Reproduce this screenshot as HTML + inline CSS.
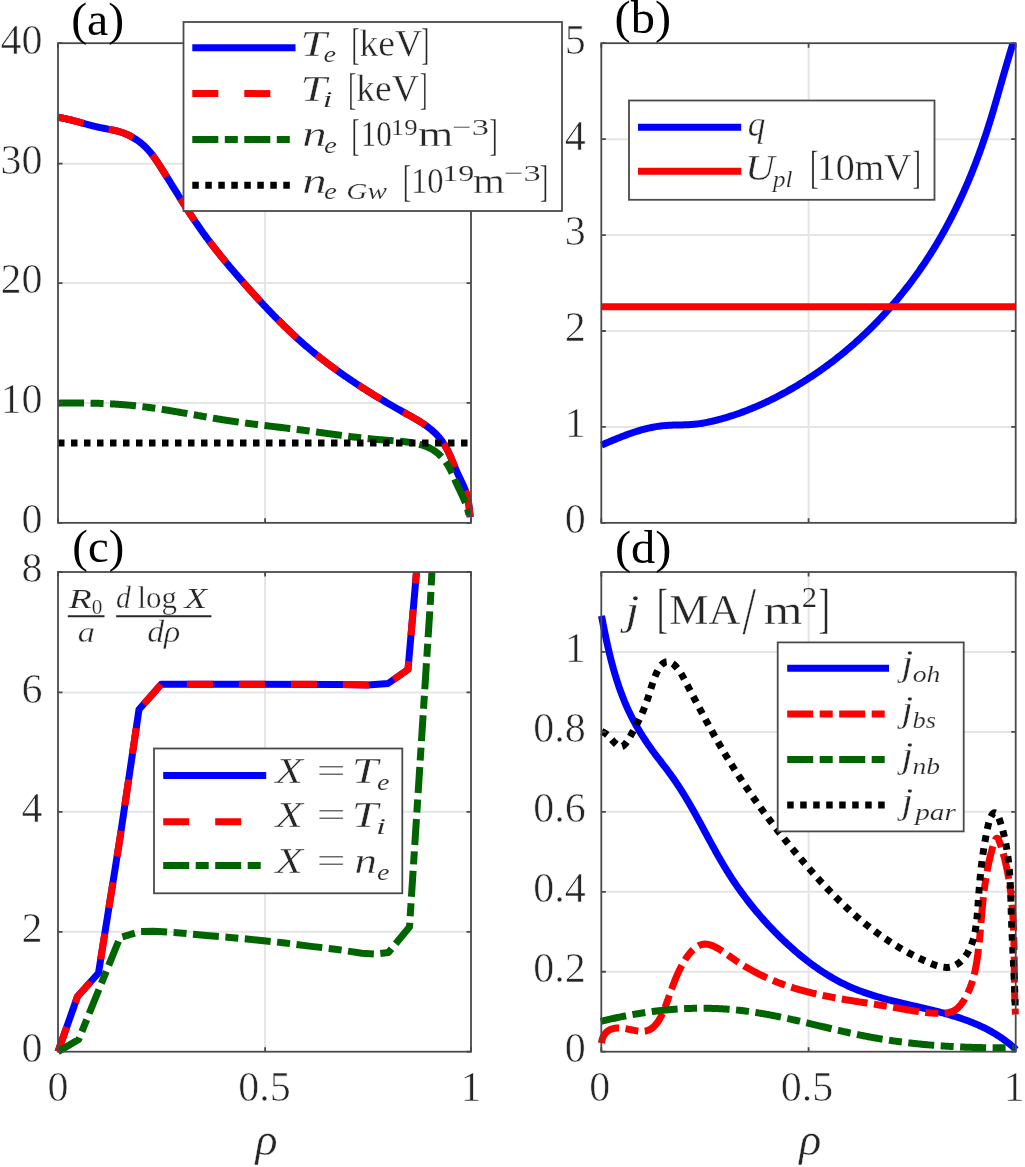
<!DOCTYPE html>
<html><head><meta charset="utf-8"><title>Figure</title>
<style>html,body{margin:0;padding:0;background:#fff;overflow:hidden}svg{display:block}</style>
</head><body>
<svg width="1025" height="1167" viewBox="0 0 1025 1167" font-family="'Liberation Serif', 'Times New Roman', serif">
<rect width="1025" height="1167" fill="#ffffff"/>
<line x1="58.0" y1="402.94" x2="471.0" y2="402.94" stroke="#e5e5e5" stroke-width="2"/>
<line x1="58.0" y1="283.03" x2="471.0" y2="283.03" stroke="#e5e5e5" stroke-width="2"/>
<line x1="58.0" y1="163.71" x2="471.0" y2="163.71" stroke="#e5e5e5" stroke-width="2"/>
<line x1="265.10" y1="43.2" x2="265.10" y2="522.85" stroke="#e5e5e5" stroke-width="2"/>
<line x1="601.3" y1="426.92" x2="1015.7" y2="426.92" stroke="#e5e5e5" stroke-width="2"/>
<line x1="601.3" y1="330.99" x2="1015.7" y2="330.99" stroke="#e5e5e5" stroke-width="2"/>
<line x1="601.3" y1="235.06" x2="1015.7" y2="235.06" stroke="#e5e5e5" stroke-width="2"/>
<line x1="601.3" y1="139.13" x2="1015.7" y2="139.13" stroke="#e5e5e5" stroke-width="2"/>
<line x1="808.60" y1="43.2" x2="808.60" y2="522.85" stroke="#e5e5e5" stroke-width="2"/>
<line x1="58.0" y1="931.78" x2="471.0" y2="931.78" stroke="#e5e5e5" stroke-width="2"/>
<line x1="58.0" y1="811.85" x2="471.0" y2="811.85" stroke="#e5e5e5" stroke-width="2"/>
<line x1="58.0" y1="692.42" x2="471.0" y2="692.42" stroke="#e5e5e5" stroke-width="2"/>
<line x1="265.10" y1="572.0" x2="265.10" y2="1051.7" stroke="#e5e5e5" stroke-width="2"/>
<line x1="601.3" y1="971.75" x2="1015.7" y2="971.75" stroke="#e5e5e5" stroke-width="2"/>
<line x1="601.3" y1="891.80" x2="1015.7" y2="891.80" stroke="#e5e5e5" stroke-width="2"/>
<line x1="601.3" y1="811.85" x2="1015.7" y2="811.85" stroke="#e5e5e5" stroke-width="2"/>
<line x1="601.3" y1="731.90" x2="1015.7" y2="731.90" stroke="#e5e5e5" stroke-width="2"/>
<line x1="601.3" y1="651.95" x2="1015.7" y2="651.95" stroke="#e5e5e5" stroke-width="2"/>
<line x1="808.60" y1="572.0" x2="808.60" y2="1051.7" stroke="#e5e5e5" stroke-width="2"/>
<defs>
<clipPath id="clipa"><rect x="54.0" y="43.2" width="421.0" height="483.65000000000003"/></clipPath>
<clipPath id="clipb"><rect x="597.3" y="43.2" width="422.4000000000001" height="483.65000000000003"/></clipPath>
<clipPath id="clipc"><rect x="54.0" y="572.0" width="421.0" height="483.70000000000005"/></clipPath>
<clipPath id="clipd"><rect x="597.3" y="572.0" width="422.4000000000001" height="483.70000000000005"/></clipPath>
</defs>
<g clip-path="url(#clipa)">
<path d="M58.04,117.32 L59.49,117.55 L60.94,117.79 L62.39,118.06 L63.84,118.35 L65.29,118.65 L66.75,118.97 L68.21,119.31 L69.66,119.66 L71.12,120.02 L72.59,120.40 L74.05,120.78 L75.51,121.17 L76.98,121.56 L78.44,121.97 L79.91,122.37 L81.37,122.78 L82.84,123.19 L84.31,123.59 L85.77,124.00 L87.24,124.40 L88.71,124.79 L90.17,125.18 L91.64,125.56 L93.10,125.94 L94.57,126.30 L96.03,126.64 L97.49,126.98 L98.95,127.30 L100.41,127.61 L101.87,127.92 L103.33,128.22 L104.78,128.51 L106.24,128.79 L107.69,129.07 L109.14,129.35 L110.59,129.63 L112.03,129.92 L113.48,130.21 L114.92,130.52 L116.35,130.85 L117.79,131.20 L119.22,131.59 L120.65,132.02 L122.08,132.50 L123.50,133.01 L124.91,133.56 L126.31,134.15 L127.71,134.78 L129.09,135.44 L130.46,136.14 L131.81,136.87 L133.15,137.64 L134.47,138.44 L135.77,139.27 L137.05,140.12 L138.31,141.01 L139.55,141.93 L140.75,142.87 L141.93,143.84 L143.09,144.83 L144.21,145.84 L145.30,146.88 L146.35,147.94 L147.38,149.01 L148.38,150.11 L149.36,151.22 L150.31,152.36 L151.24,153.50 L152.14,154.66 L153.03,155.84 L153.90,157.02 L154.76,158.22 L155.60,159.43 L156.43,160.65 L157.25,161.87 L158.06,163.11 L158.87,164.34 L159.67,165.59 L160.47,166.83 L161.27,168.08 L162.07,169.33 L162.86,170.59 L163.66,171.85 L164.45,173.10 L165.25,174.37 L166.04,175.63 L166.83,176.89 L167.63,178.16 L168.42,179.43 L169.21,180.70 L170.00,181.97 L170.79,183.24 L171.59,184.51 L172.38,185.79 L173.17,187.06 L173.96,188.34 L174.76,189.61 L175.55,190.89 L176.35,192.17 L177.15,193.44 L177.94,194.72 L178.74,196.00 L179.54,197.28 L180.34,198.55 L181.14,199.83 L181.95,201.11 L182.75,202.38 L183.56,203.66 L184.37,204.93 L185.18,206.20 L185.99,207.47 L186.81,208.74 L187.62,210.01 L188.44,211.28 L189.27,212.55 L190.09,213.81 L190.92,215.07 L191.75,216.33 L192.58,217.59 L193.42,218.84 L194.25,220.10 L195.10,221.35 L195.94,222.60 L196.79,223.84 L197.64,225.08 L198.50,226.32 L199.36,227.56 L200.22,228.79 L201.09,230.02 L201.96,231.25 L202.83,232.47 L203.71,233.69 L204.59,234.90 L205.48,236.11 L206.37,237.32 L207.26,238.53 L208.16,239.73 L209.06,240.93 L209.97,242.13 L210.88,243.32 L211.79,244.51 L212.70,245.70 L213.62,246.88 L214.54,248.06 L215.47,249.24 L216.39,250.42 L217.32,251.59 L218.26,252.76 L219.19,253.93 L220.13,255.10 L221.08,256.26 L222.02,257.42 L222.97,258.58 L223.92,259.74 L224.87,260.89 L225.83,262.04 L226.78,263.20 L227.74,264.34 L228.71,265.49 L229.67,266.64 L230.64,267.78 L231.61,268.92 L232.58,270.06 L233.55,271.20 L234.52,272.34 L235.50,273.47 L236.48,274.61 L237.46,275.74 L238.44,276.87 L239.42,278.00 L240.41,279.13 L241.40,280.26 L242.38,281.39 L243.37,282.52 L244.37,283.64 L245.36,284.77 L246.35,285.89 L247.35,287.01 L248.34,288.13 L249.34,289.25 L250.34,290.37 L251.34,291.49 L252.35,292.60 L253.35,293.72 L254.36,294.83 L255.37,295.94 L256.38,297.05 L257.39,298.16 L258.40,299.26 L259.42,300.37 L260.44,301.47 L261.46,302.57 L262.48,303.67 L263.51,304.77 L264.53,305.86 L265.56,306.95 L266.59,308.05 L267.62,309.13 L268.66,310.22 L269.70,311.30 L270.74,312.39 L271.78,313.47 L272.82,314.54 L273.87,315.62 L274.92,316.69 L275.97,317.76 L277.02,318.83 L278.08,319.89 L279.14,320.95 L280.20,322.01 L281.26,323.07 L282.33,324.12 L283.40,325.17 L284.47,326.22 L285.55,327.27 L286.63,328.31 L287.71,329.35 L288.79,330.38 L289.88,331.41 L290.97,332.44 L292.06,333.47 L293.15,334.49 L294.25,335.51 L295.35,336.53 L296.46,337.54 L297.57,338.55 L298.68,339.55 L299.79,340.55 L300.91,341.55 L302.03,342.55 L303.15,343.54 L304.28,344.52 L305.41,345.51 L306.55,346.48 L307.68,347.46 L308.83,348.43 L309.97,349.40 L311.12,350.36 L312.27,351.32 L313.43,352.27 L314.58,353.22 L315.75,354.17 L316.91,355.11 L318.08,356.05 L319.25,356.98 L320.43,357.91 L321.60,358.84 L322.79,359.76 L323.97,360.68 L325.16,361.60 L326.35,362.51 L327.54,363.42 L328.74,364.32 L329.94,365.22 L331.14,366.12 L332.35,367.01 L333.56,367.90 L334.77,368.79 L335.98,369.67 L337.20,370.55 L338.42,371.43 L339.64,372.30 L340.87,373.17 L342.09,374.03 L343.32,374.90 L344.56,375.76 L345.79,376.61 L347.03,377.46 L348.27,378.31 L349.51,379.16 L350.76,380.00 L352.00,380.84 L353.25,381.68 L354.51,382.51 L355.76,383.34 L357.02,384.17 L358.27,384.99 L359.54,385.81 L360.80,386.63 L362.06,387.44 L363.33,388.26 L364.60,389.07 L365.87,389.87 L367.14,390.68 L368.42,391.48 L369.69,392.27 L370.97,393.07 L372.25,393.86 L373.53,394.65 L374.82,395.44 L376.10,396.22 L377.39,397.01 L378.68,397.78 L379.97,398.56 L381.26,399.34 L382.55,400.11 L383.85,400.88 L385.14,401.64 L386.44,402.41 L387.74,403.17 L389.04,403.93 L390.34,404.69 L391.64,405.44 L392.95,406.19 L394.25,406.94 L395.56,407.69 L396.86,408.44 L398.17,409.18 L399.48,409.92 L400.79,410.66 L402.10,411.40 L403.41,412.13 L404.73,412.87 L406.04,413.60 L407.36,414.33 L408.67,415.06 L409.98,415.79 L411.29,416.52 L412.60,417.26 L413.90,418.00 L415.20,418.75 L416.49,419.51 L417.77,420.27 L419.04,421.04 L420.31,421.83 L421.57,422.63 L422.81,423.44 L424.05,424.26 L425.27,425.10 L426.47,425.96 L427.67,426.83 L428.84,427.73 L430.01,428.64 L431.15,429.58 L432.28,430.54 L433.38,431.53 L434.47,432.54 L435.53,433.57 L436.58,434.64 L437.60,435.73 L438.60,436.86 L439.57,438.01 L440.51,439.20 L441.43,440.40 L442.33,441.64 L443.19,442.89 L444.03,444.16 L444.83,445.45 L445.61,446.75 L446.35,448.06 L447.07,449.38 L447.76,450.72 L448.42,452.06 L449.07,453.41 L449.70,454.76 L450.31,456.13 L450.91,457.50 L451.49,458.87 L452.07,460.25 L452.65,461.63 L453.22,463.02 L453.79,464.40 L454.36,465.79 L454.93,467.18 L455.51,468.57 L456.10,469.96 L456.70,471.34 L457.31,472.72 L457.94,474.10 L458.58,475.48 L459.23,476.85 L459.89,478.22 L460.55,479.60 L461.20,480.97 L461.85,482.34 L462.49,483.71 L463.12,485.08 L463.73,486.46 L464.32,487.84 L464.88,489.22 L465.42,490.61 L465.92,492.00 L466.39,493.40 L466.82,494.80 L467.21,496.21 L467.55,497.63 L467.87,499.06 L468.15,500.50 L468.40,501.94 L468.63,503.40 L468.84,504.87 L469.03,506.35 L469.21,507.84 L469.38,509.34 L469.54,510.86 L469.70,512.39 L469.87,513.94 L470.04,515.50 L470.22,517.08" stroke="#0000ff" stroke-width="7.0" fill="none" stroke-linejoin="round"/>
<path d="M58.04,117.32 L59.49,117.55 L60.94,117.79 L62.39,118.06 L63.84,118.35 L65.29,118.65 L66.75,118.97 L68.21,119.31 L69.66,119.66 L71.12,120.02 L72.59,120.40 L74.05,120.78 L75.51,121.17 L76.98,121.56 L78.44,121.97 L79.91,122.37 L81.37,122.78 L82.84,123.19 L84.31,123.59 L85.77,124.00 L87.24,124.40 L88.71,124.79 L90.17,125.18 L91.64,125.56 L93.10,125.94 L94.57,126.30 L96.03,126.64 L97.49,126.98 L98.95,127.30 L100.41,127.61 L101.87,127.92 L103.33,128.22 L104.78,128.51 L106.24,128.79 L107.69,129.07 L109.14,129.35 L110.59,129.63 L112.03,129.92 L113.48,130.21 L114.92,130.52 L116.35,130.85 L117.79,131.20 L119.22,131.59 L120.65,132.02 L122.08,132.50 L123.50,133.01 L124.91,133.56 L126.31,134.15 L127.71,134.78 L129.09,135.44 L130.46,136.14 L131.81,136.87 L133.15,137.64 L134.47,138.44 L135.77,139.27 L137.05,140.12 L138.31,141.01 L139.55,141.93 L140.75,142.87 L141.93,143.84 L143.09,144.83 L144.21,145.84 L145.30,146.88 L146.35,147.94 L147.38,149.01 L148.38,150.11 L149.36,151.22 L150.31,152.36 L151.24,153.50 L152.14,154.66 L153.03,155.84 L153.90,157.02 L154.76,158.22 L155.60,159.43 L156.43,160.65 L157.25,161.87 L158.06,163.11 L158.87,164.34 L159.67,165.59 L160.47,166.83 L161.27,168.08 L162.07,169.33 L162.86,170.59 L163.66,171.85 L164.45,173.10 L165.25,174.37 L166.04,175.63 L166.83,176.89 L167.63,178.16 L168.42,179.43 L169.21,180.70 L170.00,181.97 L170.79,183.24 L171.59,184.51 L172.38,185.79 L173.17,187.06 L173.96,188.34 L174.76,189.61 L175.55,190.89 L176.35,192.17 L177.15,193.44 L177.94,194.72 L178.74,196.00 L179.54,197.28 L180.34,198.55 L181.14,199.83 L181.95,201.11 L182.75,202.38 L183.56,203.66 L184.37,204.93 L185.18,206.20 L185.99,207.47 L186.81,208.74 L187.62,210.01 L188.44,211.28 L189.27,212.55 L190.09,213.81 L190.92,215.07 L191.75,216.33 L192.58,217.59 L193.42,218.84 L194.25,220.10 L195.10,221.35 L195.94,222.60 L196.79,223.84 L197.64,225.08 L198.50,226.32 L199.36,227.56 L200.22,228.79 L201.09,230.02 L201.96,231.25 L202.83,232.47 L203.71,233.69 L204.59,234.90 L205.48,236.11 L206.37,237.32 L207.26,238.53 L208.16,239.73 L209.06,240.93 L209.97,242.13 L210.88,243.32 L211.79,244.51 L212.70,245.70 L213.62,246.88 L214.54,248.06 L215.47,249.24 L216.39,250.42 L217.32,251.59 L218.26,252.76 L219.19,253.93 L220.13,255.10 L221.08,256.26 L222.02,257.42 L222.97,258.58 L223.92,259.74 L224.87,260.89 L225.83,262.04 L226.78,263.20 L227.74,264.34 L228.71,265.49 L229.67,266.64 L230.64,267.78 L231.61,268.92 L232.58,270.06 L233.55,271.20 L234.52,272.34 L235.50,273.47 L236.48,274.61 L237.46,275.74 L238.44,276.87 L239.42,278.00 L240.41,279.13 L241.40,280.26 L242.38,281.39 L243.37,282.52 L244.37,283.64 L245.36,284.77 L246.35,285.89 L247.35,287.01 L248.34,288.13 L249.34,289.25 L250.34,290.37 L251.34,291.49 L252.35,292.60 L253.35,293.72 L254.36,294.83 L255.37,295.94 L256.38,297.05 L257.39,298.16 L258.40,299.26 L259.42,300.37 L260.44,301.47 L261.46,302.57 L262.48,303.67 L263.51,304.77 L264.53,305.86 L265.56,306.95 L266.59,308.05 L267.62,309.13 L268.66,310.22 L269.70,311.30 L270.74,312.39 L271.78,313.47 L272.82,314.54 L273.87,315.62 L274.92,316.69 L275.97,317.76 L277.02,318.83 L278.08,319.89 L279.14,320.95 L280.20,322.01 L281.26,323.07 L282.33,324.12 L283.40,325.17 L284.47,326.22 L285.55,327.27 L286.63,328.31 L287.71,329.35 L288.79,330.38 L289.88,331.41 L290.97,332.44 L292.06,333.47 L293.15,334.49 L294.25,335.51 L295.35,336.53 L296.46,337.54 L297.57,338.55 L298.68,339.55 L299.79,340.55 L300.91,341.55 L302.03,342.55 L303.15,343.54 L304.28,344.52 L305.41,345.51 L306.55,346.48 L307.68,347.46 L308.83,348.43 L309.97,349.40 L311.12,350.36 L312.27,351.32 L313.43,352.27 L314.58,353.22 L315.75,354.17 L316.91,355.11 L318.08,356.05 L319.25,356.98 L320.43,357.91 L321.60,358.84 L322.79,359.76 L323.97,360.68 L325.16,361.60 L326.35,362.51 L327.54,363.42 L328.74,364.32 L329.94,365.22 L331.14,366.12 L332.35,367.01 L333.56,367.90 L334.77,368.79 L335.98,369.67 L337.20,370.55 L338.42,371.43 L339.64,372.30 L340.87,373.17 L342.09,374.03 L343.32,374.90 L344.56,375.76 L345.79,376.61 L347.03,377.46 L348.27,378.31 L349.51,379.16 L350.76,380.00 L352.00,380.84 L353.25,381.68 L354.51,382.51 L355.76,383.34 L357.02,384.17 L358.27,384.99 L359.54,385.81 L360.80,386.63 L362.06,387.44 L363.33,388.26 L364.60,389.07 L365.87,389.87 L367.14,390.68 L368.42,391.48 L369.69,392.27 L370.97,393.07 L372.25,393.86 L373.53,394.65 L374.82,395.44 L376.10,396.22 L377.39,397.01 L378.68,397.78 L379.97,398.56 L381.26,399.34 L382.55,400.11 L383.85,400.88 L385.14,401.64 L386.44,402.41 L387.74,403.17 L389.04,403.93 L390.34,404.69 L391.64,405.44 L392.95,406.19 L394.25,406.94 L395.56,407.69 L396.86,408.44 L398.17,409.18 L399.48,409.92 L400.79,410.66 L402.10,411.40 L403.41,412.13 L404.73,412.87 L406.04,413.60 L407.36,414.33 L408.67,415.06 L409.98,415.79 L411.29,416.52 L412.60,417.26 L413.90,418.00 L415.20,418.75 L416.49,419.51 L417.77,420.27 L419.04,421.04 L420.31,421.83 L421.57,422.63 L422.81,423.44 L424.05,424.26 L425.27,425.10 L426.47,425.96 L427.67,426.83 L428.84,427.73 L430.01,428.64 L431.15,429.58 L432.28,430.54 L433.38,431.53 L434.47,432.54 L435.53,433.57 L436.58,434.64 L437.60,435.73 L438.60,436.86 L439.57,438.01 L440.51,439.20 L441.43,440.40 L442.33,441.64 L443.19,442.89 L444.03,444.16 L444.83,445.45 L445.61,446.75 L446.35,448.06 L447.07,449.38 L447.76,450.72 L448.42,452.06 L449.07,453.41 L449.70,454.76 L450.31,456.13 L450.91,457.50 L451.49,458.87 L452.07,460.25 L452.65,461.63 L453.22,463.02 L453.79,464.40 L454.36,465.79 L454.93,467.18 L455.51,468.57 L456.10,469.96 L456.70,471.34 L457.31,472.72 L457.94,474.10 L458.58,475.48 L459.23,476.85 L459.89,478.22 L460.55,479.60 L461.20,480.97 L461.85,482.34 L462.49,483.71 L463.12,485.08 L463.73,486.46 L464.32,487.84 L464.88,489.22 L465.42,490.61 L465.92,492.00 L466.39,493.40 L466.82,494.80 L467.21,496.21 L467.55,497.63 L467.87,499.06 L468.15,500.50 L468.40,501.94 L468.63,503.40 L468.84,504.87 L469.03,506.35 L469.21,507.84 L469.38,509.34 L469.54,510.86 L469.70,512.39 L469.87,513.94 L470.04,515.50 L470.22,517.08" stroke="#ff0000" stroke-width="7.0" fill="none" stroke-linejoin="round" stroke-dasharray="26,26"/>
<path d="M58.06,403.16 L59.20,403.14 L60.34,403.12 L61.48,403.10 L62.62,403.09 L63.76,403.07 L64.90,403.06 L66.04,403.04 L67.18,403.03 L68.32,403.02 L69.46,403.01 L70.60,403.01 L71.74,403.00 L72.88,402.99 L74.02,402.99 L75.15,402.99 L76.29,402.99 L77.43,402.99 L78.57,402.99 L79.71,403.00 L80.85,403.00 L81.99,403.01 L83.12,403.02 L84.26,403.03 L85.40,403.05 L86.54,403.06 L87.68,403.08 L88.81,403.10 L89.95,403.12 L91.09,403.14 L92.23,403.17 L93.36,403.19 L94.50,403.22 L95.64,403.25 L96.77,403.28 L97.91,403.32 L99.05,403.35 L100.18,403.39 L101.32,403.43 L102.46,403.48 L103.59,403.52 L104.73,403.57 L105.86,403.62 L107.00,403.67 L108.13,403.72 L109.27,403.78 L110.41,403.84 L111.54,403.90 L112.68,403.97 L113.81,404.03 L114.95,404.10 L116.08,404.17 L117.22,404.25 L118.35,404.32 L119.49,404.40 L120.62,404.48 L121.75,404.57 L122.89,404.65 L124.02,404.74 L125.16,404.84 L126.29,404.93 L127.43,405.03 L128.56,405.13 L129.69,405.23 L130.83,405.34 L131.96,405.45 L133.09,405.56 L134.23,405.68 L135.36,405.80 L136.49,405.92 L137.63,406.04 L138.76,406.17 L139.89,406.30 L141.03,406.43 L142.16,406.57 L143.29,406.71 L144.42,406.85 L145.56,406.99 L146.69,407.14 L147.82,407.29 L148.95,407.44 L150.08,407.59 L151.22,407.75 L152.35,407.91 L153.48,408.07 L154.61,408.23 L155.74,408.39 L156.88,408.56 L158.01,408.73 L159.14,408.90 L160.27,409.07 L161.40,409.25 L162.53,409.42 L163.66,409.60 L164.79,409.78 L165.92,409.96 L167.06,410.15 L168.19,410.33 L169.32,410.52 L170.45,410.70 L171.58,410.89 L172.71,411.08 L173.84,411.27 L174.97,411.46 L176.10,411.65 L177.23,411.85 L178.36,412.04 L179.49,412.24 L180.62,412.43 L181.75,412.63 L182.88,412.83 L184.01,413.02 L185.14,413.22 L186.27,413.42 L187.40,413.62 L188.53,413.82 L189.66,414.02 L190.79,414.22 L191.91,414.42 L193.04,414.62 L194.17,414.82 L195.30,415.02 L196.43,415.22 L197.56,415.42 L198.69,415.62 L199.82,415.82 L200.95,416.02 L202.07,416.22 L203.20,416.42 L204.33,416.62 L205.46,416.81 L206.59,417.01 L207.72,417.21 L208.85,417.40 L209.97,417.60 L211.10,417.79 L212.23,417.98 L213.36,418.18 L214.49,418.37 L215.61,418.56 L216.74,418.74 L217.87,418.93 L219.00,419.12 L220.12,419.30 L221.25,419.49 L222.38,419.67 L223.51,419.85 L224.63,420.03 L225.76,420.21 L226.89,420.38 L228.02,420.55 L229.14,420.73 L230.27,420.90 L231.40,421.07 L232.52,421.23 L233.65,421.40 L234.78,421.56 L235.91,421.73 L237.03,421.89 L238.16,422.05 L239.29,422.20 L240.41,422.36 L241.54,422.52 L242.67,422.67 L243.79,422.82 L244.92,422.98 L246.05,423.13 L247.17,423.28 L248.30,423.42 L249.43,423.57 L250.55,423.72 L251.68,423.86 L252.80,424.01 L253.93,424.15 L255.06,424.30 L256.18,424.44 L257.31,424.58 L258.43,424.72 L259.56,424.86 L260.69,425.00 L261.81,425.14 L262.94,425.28 L264.06,425.42 L265.19,425.55 L266.32,425.69 L267.44,425.83 L268.57,425.96 L269.69,426.10 L270.82,426.23 L271.95,426.37 L273.07,426.51 L274.20,426.64 L275.32,426.78 L276.45,426.91 L277.57,427.05 L278.70,427.18 L279.82,427.32 L280.95,427.45 L282.07,427.59 L283.20,427.72 L284.33,427.86 L285.45,427.99 L286.58,428.13 L287.70,428.27 L288.83,428.40 L289.95,428.54 L291.08,428.68 L292.20,428.82 L293.33,428.96 L294.45,429.10 L295.58,429.24 L296.70,429.38 L297.83,429.52 L298.95,429.66 L300.08,429.80 L301.20,429.95 L302.33,430.09 L303.45,430.24 L304.58,430.38 L305.70,430.53 L306.83,430.68 L307.95,430.83 L309.08,430.98 L310.20,431.13 L311.33,431.28 L312.45,431.43 L313.58,431.59 L314.70,431.74 L315.83,431.89 L316.95,432.05 L318.08,432.20 L319.21,432.36 L320.33,432.51 L321.46,432.67 L322.59,432.82 L323.71,432.98 L324.84,433.14 L325.97,433.29 L327.10,433.45 L328.22,433.60 L329.35,433.76 L330.48,433.92 L331.61,434.07 L332.74,434.23 L333.87,434.38 L335.00,434.53 L336.13,434.69 L337.26,434.84 L338.39,434.99 L339.53,435.15 L340.66,435.30 L341.79,435.45 L342.93,435.60 L344.06,435.75 L345.19,435.90 L346.33,436.04 L347.47,436.19 L348.60,436.34 L349.74,436.48 L350.88,436.62 L352.02,436.76 L353.16,436.91 L354.30,437.04 L355.44,437.18 L356.58,437.32 L357.72,437.45 L358.86,437.59 L360.01,437.72 L361.15,437.85 L362.30,437.98 L363.44,438.11 L364.59,438.23 L365.74,438.35 L366.89,438.48 L368.04,438.60 L369.19,438.71 L370.34,438.83 L371.49,438.94 L372.65,439.05 L373.80,439.16 L374.96,439.27 L376.11,439.37 L377.27,439.48 L378.43,439.58 L379.59,439.67 L380.75,439.77 L381.91,439.86 L383.07,439.95 L384.24,440.04 L385.40,440.12 L386.57,440.20 L387.73,440.29 L388.90,440.37 L390.06,440.45 L391.23,440.54 L392.39,440.62 L393.55,440.71 L394.71,440.79 L395.87,440.89 L397.03,440.98 L398.19,441.08 L399.34,441.18 L400.49,441.29 L401.64,441.40 L402.78,441.52 L403.92,441.64 L405.06,441.78 L406.19,441.92 L407.32,442.06 L408.44,442.22 L409.56,442.38 L410.68,442.56 L411.78,442.74 L412.89,442.94 L413.98,443.14 L415.07,443.36 L416.16,443.59 L417.24,443.83 L418.31,444.09 L419.37,444.36 L420.42,444.64 L421.47,444.94 L422.51,445.25 L423.54,445.58 L424.57,445.93 L425.58,446.30 L426.58,446.68 L427.58,447.09 L428.57,447.52 L429.54,447.98 L430.51,448.47 L431.46,448.98 L432.41,449.52 L433.34,450.10 L434.26,450.71 L435.17,451.34 L436.07,452.01 L436.95,452.70 L437.82,453.42 L438.67,454.16 L439.51,454.93 L440.33,455.72 L441.14,456.53 L441.93,457.37 L442.70,458.22 L443.45,459.09 L444.19,459.99 L444.90,460.90 L445.60,461.82 L446.27,462.77 L446.93,463.72 L447.56,464.69 L448.17,465.67 L448.75,466.67 L449.32,467.67 L449.86,468.68 L450.38,469.71 L450.88,470.73 L451.37,471.77 L451.85,472.81 L452.32,473.86 L452.77,474.90 L453.23,475.95 L453.68,477.01 L454.13,478.06 L454.58,479.11 L455.04,480.16 L455.50,481.21 L455.97,482.25 L456.45,483.30 L456.93,484.34 L457.42,485.37 L457.91,486.41 L458.41,487.44 L458.90,488.48 L459.40,489.51 L459.89,490.54 L460.39,491.57 L460.88,492.60 L461.37,493.64 L461.86,494.67 L462.34,495.71 L462.81,496.74 L463.28,497.78 L463.74,498.82 L464.18,499.86 L464.62,500.91 L465.05,501.96 L465.47,503.01 L465.87,504.07 L466.26,505.13 L466.63,506.19 L466.99,507.26 L467.33,508.34 L467.65,509.42 L467.96,510.51 L468.24,511.60 L468.50,512.70 L468.74,513.80 L468.96,514.92" stroke="#006400" stroke-width="7.0" fill="none" stroke-linejoin="round" stroke-dasharray="26,6.5,13,6.5"/>
<path d="M58,443.0 L471,443.0" stroke="#000000" stroke-width="7.0" fill="none" stroke-linejoin="round" stroke-dasharray="6.5,6.5"/>
</g>
<g clip-path="url(#clipb)">
<path d="M601.49,445.11 L602.86,444.52 L604.24,443.93 L605.63,443.33 L607.03,442.73 L608.44,442.13 L609.85,441.54 L611.26,440.94 L612.69,440.34 L614.11,439.75 L615.55,439.16 L616.99,438.57 L618.44,437.98 L619.89,437.40 L621.35,436.83 L622.81,436.26 L624.28,435.70 L625.75,435.14 L627.23,434.60 L628.71,434.06 L630.20,433.53 L631.69,433.01 L633.19,432.50 L634.69,432.01 L636.19,431.52 L637.70,431.05 L639.21,430.59 L640.73,430.15 L642.25,429.72 L643.77,429.31 L645.29,428.91 L646.82,428.53 L648.35,428.17 L649.89,427.82 L651.42,427.49 L652.96,427.19 L654.50,426.90 L656.05,426.63 L657.59,426.39 L659.14,426.17 L660.69,425.97 L662.24,425.79 L663.80,425.64 L665.35,425.51 L666.91,425.40 L668.46,425.31 L670.02,425.23 L671.58,425.17 L673.14,425.11 L674.69,425.07 L676.25,425.03 L677.81,425.00 L679.37,424.96 L680.93,424.93 L682.48,424.89 L684.04,424.85 L685.59,424.80 L687.15,424.74 L688.70,424.67 L690.25,424.58 L691.80,424.48 L693.35,424.36 L694.89,424.21 L696.43,424.04 L697.97,423.86 L699.51,423.65 L701.05,423.42 L702.58,423.18 L704.11,422.91 L705.64,422.63 L707.17,422.34 L708.69,422.03 L710.21,421.70 L711.73,421.36 L713.25,421.01 L714.76,420.64 L716.28,420.27 L717.79,419.88 L719.29,419.48 L720.80,419.07 L722.30,418.66 L723.80,418.23 L725.30,417.79 L726.79,417.35 L728.28,416.89 L729.77,416.43 L731.26,415.95 L732.74,415.47 L734.22,414.98 L735.70,414.48 L737.18,413.97 L738.65,413.45 L740.12,412.93 L741.59,412.39 L743.05,411.85 L744.52,411.30 L745.98,410.75 L747.43,410.18 L748.89,409.61 L750.34,409.03 L751.78,408.44 L753.23,407.84 L754.67,407.24 L756.11,406.63 L757.55,406.01 L758.98,405.39 L760.41,404.75 L761.83,404.11 L763.26,403.47 L764.68,402.81 L766.10,402.15 L767.51,401.48 L768.92,400.81 L770.33,400.13 L771.74,399.44 L773.14,398.75 L774.54,398.04 L775.93,397.34 L777.32,396.62 L778.71,395.90 L780.10,395.17 L781.48,394.44 L782.86,393.70 L784.24,392.95 L785.61,392.20 L786.98,391.44 L788.34,390.68 L789.70,389.91 L791.06,389.13 L792.42,388.35 L793.77,387.56 L795.12,386.77 L796.46,385.97 L797.80,385.17 L799.14,384.36 L800.48,383.54 L801.81,382.72 L803.13,381.90 L804.46,381.06 L805.78,380.23 L807.09,379.38 L808.41,378.54 L809.72,377.68 L811.02,376.82 L812.32,375.96 L813.62,375.09 L814.92,374.21 L816.21,373.33 L817.49,372.45 L818.78,371.56 L820.06,370.66 L821.33,369.76 L822.61,368.85 L823.88,367.94 L825.14,367.02 L826.40,366.10 L827.66,365.17 L828.91,364.24 L830.16,363.31 L831.41,362.36 L832.65,361.42 L833.89,360.46 L835.12,359.51 L836.36,358.55 L837.58,357.58 L838.81,356.61 L840.02,355.63 L841.24,354.65 L842.45,353.66 L843.66,352.67 L844.86,351.68 L846.06,350.67 L847.26,349.67 L848.45,348.66 L849.64,347.64 L850.82,346.62 L852.00,345.60 L853.18,344.57 L854.35,343.54 L855.52,342.50 L856.68,341.46 L857.84,340.41 L859.00,339.36 L860.15,338.30 L861.30,337.24 L862.44,336.18 L863.58,335.11 L864.72,334.04 L865.85,332.96 L866.98,331.88 L868.10,330.79 L869.22,329.70 L870.33,328.60 L871.44,327.50 L872.55,326.40 L873.65,325.29 L874.75,324.18 L875.85,323.06 L876.94,321.94 L878.02,320.82 L879.10,319.69 L880.18,318.56 L881.25,317.42 L882.32,316.28 L883.39,315.13 L884.45,313.98 L885.50,312.83 L886.55,311.67 L887.60,310.51 L888.64,309.35 L889.68,308.18 L890.72,307.01 L891.75,305.83 L892.77,304.65 L893.79,303.47 L894.81,302.28 L895.82,301.09 L896.83,299.89 L897.84,298.69 L898.83,297.49 L899.83,296.29 L900.82,295.08 L901.80,293.86 L902.79,292.65 L903.76,291.42 L904.74,290.20 L905.70,288.97 L906.67,287.74 L907.63,286.51 L908.58,285.27 L909.53,284.03 L910.47,282.78 L911.42,281.53 L912.35,280.28 L913.28,279.03 L914.21,277.77 L915.13,276.51 L916.05,275.24 L916.96,273.97 L917.87,272.70 L918.77,271.43 L919.67,270.15 L920.57,268.87 L921.46,267.58 L922.34,266.30 L923.22,265.01 L924.10,263.71 L924.97,262.42 L925.83,261.12 L926.70,259.81 L927.55,258.51 L928.40,257.20 L929.25,255.89 L930.09,254.57 L930.93,253.26 L931.76,251.94 L932.59,250.61 L933.41,249.29 L934.23,247.96 L935.05,246.63 L935.85,245.29 L936.66,243.96 L937.46,242.62 L938.25,241.27 L939.04,239.93 L939.83,238.58 L940.61,237.23 L941.39,235.88 L942.16,234.52 L942.93,233.16 L943.69,231.80 L944.45,230.44 L945.20,229.07 L945.95,227.71 L946.70,226.34 L947.44,224.96 L948.17,223.59 L948.90,222.21 L949.63,220.83 L950.35,219.45 L951.07,218.06 L951.78,216.67 L952.49,215.28 L953.20,213.89 L953.90,212.50 L954.60,211.10 L955.29,209.70 L955.98,208.30 L956.66,206.90 L957.34,205.50 L958.02,204.09 L958.69,202.68 L959.35,201.27 L960.02,199.86 L960.68,198.44 L961.33,197.02 L961.98,195.61 L962.63,194.18 L963.27,192.76 L963.91,191.34 L964.54,189.91 L965.17,188.48 L965.80,187.05 L966.42,185.62 L967.04,184.19 L967.65,182.75 L968.26,181.31 L968.87,179.87 L969.47,178.43 L970.07,176.99 L970.66,175.55 L971.25,174.10 L971.84,172.65 L972.42,171.20 L973.00,169.75 L973.57,168.30 L974.15,166.85 L974.71,165.39 L975.28,163.94 L975.84,162.48 L976.39,161.02 L976.94,159.56 L977.49,158.10 L978.04,156.63 L978.58,155.17 L979.12,153.70 L979.65,152.23 L980.18,150.77 L980.71,149.30 L981.23,147.82 L981.75,146.35 L982.27,144.88 L982.78,143.40 L983.29,141.93 L983.79,140.45 L984.29,138.97 L984.79,137.49 L985.29,136.01 L985.78,134.53 L986.27,133.05 L986.75,131.57 L987.23,130.08 L987.71,128.60 L988.19,127.11 L988.66,125.62 L989.13,124.14 L989.59,122.65 L990.05,121.16 L990.51,119.67 L990.97,118.18 L991.42,116.68 L991.88,115.19 L992.33,113.70 L992.78,112.21 L993.22,110.71 L993.67,109.22 L994.11,107.72 L994.55,106.22 L994.99,104.73 L995.42,103.23 L995.86,101.73 L996.30,100.23 L996.73,98.73 L997.16,97.23 L997.60,95.73 L998.03,94.23 L998.46,92.73 L998.89,91.23 L999.32,89.73 L999.75,88.23 L1000.18,86.72 L1000.61,85.22 L1001.03,83.72 L1001.46,82.22 L1001.89,80.71 L1002.32,79.21 L1002.75,77.71 L1003.19,76.20 L1003.62,74.70 L1004.05,73.19 L1004.48,71.69 L1004.92,70.18 L1005.36,68.68 L1005.79,67.18 L1006.23,65.67 L1006.67,64.17 L1007.11,62.66 L1007.56,61.16 L1008.00,59.66 L1008.45,58.15 L1008.90,56.65 L1009.35,55.14 L1009.81,53.64 L1010.26,52.14 L1010.72,50.63 L1011.18,49.13 L1011.65,47.63 L1012.12,46.13 L1012.59,44.62 L1013.06,43.12" stroke="#0000ff" stroke-width="7.0" fill="none" stroke-linejoin="round"/>
<path d="M601.3,306.8 L1015.7,306.8" stroke="#ff0000" stroke-width="7.0" fill="none" stroke-linejoin="round"/>
</g>
<g clip-path="url(#clipc)">
<path d="M58.00,1051.70 L77.50,996.50 L98.50,973.00 L120.00,838.00 L139.00,709.50 L161.20,684.20 L340.00,684.40 L368.00,685.00 L388.00,683.50 L408.00,669.50 L416.50,572.00" stroke="#0000ff" stroke-width="7.0" fill="none" stroke-linejoin="round" stroke-linejoin="miter"/>
<path d="M58.00,1051.70 L77.50,996.50 L98.50,973.00 L120.00,838.00 L139.00,709.50 L161.20,684.20 L340.00,684.40 L368.00,685.00 L388.00,683.50 L408.00,669.50 L416.50,572.00" stroke="#ff0000" stroke-width="7.0" fill="none" stroke-linejoin="round" stroke-dasharray="26,26"/>
<path d="M58.00,1051.70 L78.65,1039.50 L120.00,937.50 L140.60,931.50 L153.70,931.30 L180.00,932.90 L206.40,935.50 L230.10,937.40 L256.50,940.00 L282.80,942.70 L309.10,946.10 L335.50,949.20 L361.80,953.20 L375.00,954.00 L388.40,952.50 L409.50,927.00 L430.50,600.00 L432.50,560.00" stroke="#006400" stroke-width="7.0" fill="none" stroke-linejoin="round" stroke-dasharray="26,6.5,13,6.5"/>
</g>
<g clip-path="url(#clipd)">
<path d="M601.50,615.86 L601.80,617.40 L602.10,618.94 L602.40,620.48 L602.70,622.03 L603.00,623.58 L603.31,625.14 L603.62,626.69 L603.93,628.25 L604.25,629.81 L604.56,631.38 L604.89,632.94 L605.21,634.51 L605.54,636.08 L605.87,637.65 L606.21,639.22 L606.55,640.79 L606.89,642.36 L607.24,643.94 L607.59,645.51 L607.95,647.08 L608.31,648.66 L608.68,650.23 L609.05,651.81 L609.42,653.38 L609.80,654.95 L610.19,656.53 L610.58,658.10 L610.98,659.67 L611.38,661.24 L611.79,662.80 L612.21,664.37 L612.63,665.93 L613.06,667.50 L613.49,669.06 L613.93,670.61 L614.38,672.17 L614.83,673.72 L615.29,675.27 L615.76,676.82 L616.24,678.36 L616.72,679.90 L617.21,681.44 L617.71,682.97 L618.21,684.50 L618.73,686.03 L619.25,687.55 L619.78,689.07 L620.32,690.58 L620.86,692.09 L621.42,693.59 L621.98,695.09 L622.56,696.58 L623.14,698.07 L623.73,699.55 L624.33,701.03 L624.94,702.50 L625.56,703.96 L626.19,705.42 L626.83,706.87 L627.48,708.32 L628.14,709.75 L628.81,711.19 L629.49,712.61 L630.18,714.03 L630.88,715.44 L631.58,716.85 L632.30,718.25 L633.03,719.65 L633.77,721.04 L634.52,722.42 L635.27,723.80 L636.04,725.18 L636.82,726.54 L637.60,727.91 L638.40,729.27 L639.20,730.62 L640.01,731.97 L640.84,733.31 L641.67,734.65 L642.51,735.99 L643.36,737.32 L644.22,738.65 L645.09,739.97 L645.97,741.29 L646.85,742.61 L647.75,743.92 L648.65,745.23 L649.56,746.53 L650.48,747.84 L651.41,749.13 L652.35,750.43 L653.30,751.72 L654.25,753.01 L655.22,754.30 L656.18,755.58 L657.16,756.87 L658.13,758.15 L659.12,759.43 L660.10,760.72 L661.09,762.00 L662.07,763.28 L663.06,764.56 L664.04,765.85 L665.03,767.14 L666.01,768.42 L666.99,769.72 L667.96,771.01 L668.93,772.31 L669.89,773.61 L670.84,774.91 L671.79,776.22 L672.72,777.54 L673.65,778.86 L674.57,780.18 L675.48,781.51 L676.38,782.84 L677.28,784.18 L678.17,785.52 L679.05,786.87 L679.92,788.21 L680.79,789.57 L681.65,790.92 L682.51,792.28 L683.35,793.64 L684.19,795.01 L685.03,796.38 L685.86,797.75 L686.69,799.12 L687.50,800.50 L688.32,801.88 L689.13,803.26 L689.93,804.65 L690.73,806.04 L691.53,807.42 L692.32,808.81 L693.11,810.21 L693.90,811.60 L694.68,813.00 L695.46,814.39 L696.24,815.79 L697.01,817.19 L697.78,818.59 L698.55,819.99 L699.31,821.40 L700.08,822.80 L700.84,824.20 L701.60,825.61 L702.36,827.01 L703.12,828.42 L703.88,829.82 L704.64,831.23 L705.40,832.63 L706.16,834.03 L706.91,835.44 L707.67,836.84 L708.43,838.24 L709.19,839.64 L709.95,841.05 L710.71,842.44 L711.47,843.84 L712.24,845.24 L713.00,846.64 L713.77,848.03 L714.54,849.42 L715.31,850.81 L716.09,852.20 L716.87,853.59 L717.65,854.97 L718.43,856.35 L719.22,857.73 L720.01,859.11 L720.80,860.48 L721.60,861.85 L722.41,863.22 L723.21,864.59 L724.03,865.95 L724.84,867.31 L725.67,868.66 L726.49,870.01 L727.33,871.36 L728.17,872.71 L729.01,874.05 L729.86,875.38 L730.72,876.71 L731.58,878.04 L732.45,879.37 L733.33,880.69 L734.21,882.00 L735.10,883.31 L735.99,884.62 L736.89,885.93 L737.80,887.22 L738.71,888.52 L739.63,889.81 L740.55,891.10 L741.48,892.38 L742.42,893.66 L743.36,894.94 L744.31,896.21 L745.26,897.48 L746.22,898.74 L747.19,900.00 L748.16,901.25 L749.14,902.51 L750.12,903.75 L751.11,905.00 L752.11,906.24 L753.11,907.47 L754.12,908.70 L755.13,909.93 L756.15,911.15 L757.18,912.37 L758.21,913.59 L759.25,914.80 L760.29,916.00 L761.34,917.21 L762.40,918.41 L763.46,919.60 L764.53,920.79 L765.60,921.98 L766.68,923.16 L767.76,924.34 L768.85,925.52 L769.95,926.69 L771.05,927.85 L772.16,929.02 L773.28,930.18 L774.40,931.33 L775.52,932.48 L776.65,933.63 L777.79,934.77 L778.94,935.91 L780.08,937.05 L781.24,938.18 L782.40,939.30 L783.57,940.42 L784.74,941.54 L785.92,942.65 L787.10,943.75 L788.29,944.85 L789.49,945.94 L790.69,947.03 L791.90,948.11 L793.11,949.19 L794.33,950.25 L795.55,951.32 L796.78,952.37 L798.02,953.42 L799.26,954.46 L800.51,955.50 L801.76,956.52 L803.02,957.54 L804.28,958.55 L805.55,959.56 L806.83,960.55 L808.11,961.54 L809.39,962.52 L810.69,963.49 L811.99,964.45 L813.29,965.40 L814.60,966.34 L815.91,967.28 L817.23,968.20 L818.56,969.11 L819.89,970.02 L821.23,970.91 L822.57,971.80 L823.92,972.67 L825.28,973.54 L826.64,974.39 L828.00,975.23 L829.37,976.06 L830.75,976.88 L832.13,977.69 L833.52,978.49 L834.92,979.28 L836.31,980.05 L837.72,980.81 L839.13,981.56 L840.55,982.30 L841.97,983.03 L843.39,983.74 L844.83,984.44 L846.26,985.12 L847.71,985.80 L849.15,986.46 L850.61,987.10 L852.07,987.74 L853.53,988.36 L855.00,988.96 L856.48,989.56 L857.96,990.14 L859.44,990.71 L860.93,991.27 L862.43,991.82 L863.92,992.36 L865.43,992.89 L866.93,993.40 L868.44,993.91 L869.95,994.41 L871.47,994.90 L872.99,995.38 L874.52,995.85 L876.04,996.31 L877.58,996.77 L879.11,997.22 L880.65,997.66 L882.18,998.09 L883.73,998.52 L885.27,998.94 L886.82,999.35 L888.37,999.76 L889.92,1000.17 L891.47,1000.56 L893.02,1000.96 L894.58,1001.35 L896.14,1001.73 L897.69,1002.11 L899.25,1002.49 L900.82,1002.87 L902.38,1003.24 L903.94,1003.61 L905.50,1003.98 L907.07,1004.34 L908.63,1004.71 L910.20,1005.07 L911.76,1005.43 L913.33,1005.79 L914.89,1006.15 L916.46,1006.51 L918.02,1006.88 L919.59,1007.24 L921.15,1007.60 L922.71,1007.97 L924.27,1008.33 L925.83,1008.70 L927.39,1009.07 L928.95,1009.44 L930.51,1009.82 L932.06,1010.20 L933.62,1010.58 L935.17,1010.97 L936.72,1011.36 L938.26,1011.75 L939.81,1012.15 L941.35,1012.56 L942.89,1012.97 L944.43,1013.39 L945.96,1013.81 L947.49,1014.24 L949.02,1014.67 L950.55,1015.12 L952.07,1015.57 L953.59,1016.02 L955.10,1016.49 L956.62,1016.96 L958.12,1017.45 L959.63,1017.94 L961.13,1018.44 L962.62,1018.95 L964.11,1019.47 L965.60,1020.00 L967.08,1020.54 L968.56,1021.09 L970.03,1021.66 L971.50,1022.23 L972.96,1022.82 L974.41,1023.42 L975.86,1024.03 L977.31,1024.65 L978.75,1025.29 L980.18,1025.94 L981.61,1026.61 L983.03,1027.28 L984.45,1027.98 L985.86,1028.68 L987.26,1029.41 L988.65,1030.14 L990.04,1030.90 L991.42,1031.67 L992.80,1032.45 L994.17,1033.26 L995.53,1034.07 L996.88,1034.91 L998.22,1035.77 L999.56,1036.64 L1000.89,1037.53 L1002.21,1038.44 L1003.53,1039.36 L1004.83,1040.31 L1006.13,1041.28 L1007.41,1042.26 L1008.69,1043.27 L1009.96,1044.29 L1011.23,1045.34 L1012.48,1046.41 L1013.72,1047.50 L1014.96,1048.61 L1016.18,1049.74" stroke="#0000ff" stroke-width="7.0" fill="none" stroke-linejoin="round"/>
<path d="M601.36,1043.13 L601.85,1040.61 L602.53,1038.36 L603.36,1036.37 L604.36,1034.61 L605.50,1033.09 L606.78,1031.79 L608.19,1030.70 L609.71,1029.81 L611.33,1029.10 L613.05,1028.58 L614.86,1028.22 L616.73,1028.02 L618.67,1027.96 L620.67,1028.03 L622.70,1028.23 L624.77,1028.52 L626.86,1028.89 L628.96,1029.31 L631.06,1029.75 L633.15,1030.18 L635.22,1030.57 L637.26,1030.91 L639.26,1031.16 L641.20,1031.30 L643.08,1031.31 L644.90,1031.14 L646.62,1030.79 L648.27,1030.24 L649.83,1029.52 L651.32,1028.63 L652.73,1027.58 L654.07,1026.38 L655.35,1025.06 L656.56,1023.61 L657.71,1022.05 L658.81,1020.40 L659.85,1018.65 L660.84,1016.84 L661.78,1014.96 L662.69,1013.03 L663.55,1011.06 L664.37,1009.06 L665.17,1007.05 L665.93,1005.03 L666.67,1003.02 L667.38,1001.03 L668.07,999.07 L668.75,997.15 L669.42,995.26 L670.08,993.39 L670.73,991.56 L671.38,989.74 L672.03,987.95 L672.68,986.17 L673.34,984.40 L674.02,982.64 L674.70,980.89 L675.41,979.15 L676.14,977.40 L676.89,975.65 L677.67,973.89 L678.48,972.12 L679.33,970.34 L680.22,968.55 L681.14,966.73 L682.12,964.90 L683.13,963.07 L684.19,961.25 L685.29,959.46 L686.43,957.70 L687.61,956.00 L688.84,954.35 L690.11,952.79 L691.42,951.31 L692.77,949.93 L694.17,948.67 L695.61,947.53 L697.08,946.53 L698.60,945.69 L700.16,945.01 L701.75,944.51 L703.36,944.19 L704.99,944.08 L706.64,944.15 L708.30,944.40 L709.98,944.81 L711.67,945.37 L713.38,946.06 L715.09,946.87 L716.82,947.78 L718.56,948.79 L720.31,949.87 L722.06,951.02 L723.82,952.22 L725.58,953.45 L727.35,954.71 L729.12,955.97 L730.90,957.23 L732.67,958.47 L734.45,959.69 L736.22,960.88 L738.00,962.05 L739.77,963.19 L741.55,964.31 L743.33,965.40 L745.11,966.47 L746.89,967.52 L748.67,968.55 L750.45,969.56 L752.23,970.54 L754.02,971.50 L755.81,972.44 L757.59,973.37 L759.38,974.27 L761.18,975.15 L762.97,976.01 L764.77,976.85 L766.56,977.67 L768.36,978.48 L770.17,979.26 L771.97,980.03 L773.78,980.78 L775.59,981.51 L777.40,982.23 L779.21,982.93 L781.03,983.61 L782.85,984.28 L784.68,984.93 L786.51,985.57 L788.34,986.19 L790.17,986.79 L792.01,987.39 L793.85,987.97 L795.70,988.53 L797.54,989.08 L799.40,989.62 L801.25,990.15 L803.11,990.66 L804.98,991.17 L806.85,991.66 L808.72,992.14 L810.60,992.61 L812.48,993.07 L814.37,993.52 L816.26,993.95 L818.16,994.38 L820.06,994.80 L821.97,995.22 L823.88,995.62 L825.80,996.01 L827.72,996.40 L829.65,996.78 L831.58,997.15 L833.52,997.52 L835.46,997.88 L837.41,998.23 L839.36,998.58 L841.31,998.92 L843.27,999.26 L845.23,999.60 L847.20,999.93 L849.17,1000.25 L851.14,1000.57 L853.11,1000.89 L855.09,1001.21 L857.07,1001.53 L859.05,1001.84 L861.03,1002.15 L863.02,1002.46 L865.01,1002.77 L867.00,1003.08 L868.98,1003.39 L870.97,1003.70 L872.97,1004.01 L874.96,1004.32 L876.95,1004.63 L878.94,1004.95 L880.94,1005.26 L882.93,1005.58 L884.92,1005.91 L886.91,1006.23 L888.90,1006.56 L890.89,1006.89 L892.88,1007.23 L894.87,1007.57 L896.85,1007.92 L898.84,1008.27 L900.82,1008.63 L902.80,1008.98 L904.78,1009.34 L906.75,1009.69 L908.72,1010.04 L910.69,1010.38 L912.66,1010.71 L914.62,1011.04 L916.58,1011.35 L918.54,1011.64 L920.49,1011.92 L922.44,1012.18 L924.38,1012.42 L926.32,1012.63 L928.25,1012.83 L930.18,1012.99 L932.11,1013.13 L934.03,1013.24 L935.94,1013.31 L937.85,1013.36 L939.75,1013.36 L941.64,1013.33 L943.53,1013.24 L945.39,1013.08 L947.22,1012.83 L949.02,1012.48 L950.78,1011.99 L952.48,1011.37 L954.12,1010.58 L955.70,1009.61 L957.20,1008.46 L958.63,1007.14 L960.00,1005.68 L961.29,1004.09 L962.52,1002.40 L963.69,1000.63 L964.79,998.81 L965.83,996.94 L966.81,995.07 L967.74,993.18 L968.61,991.28 L969.43,989.38 L970.20,987.47 L970.92,985.55 L971.59,983.62 L972.23,981.69 L972.82,979.76 L973.37,977.82 L973.89,975.88 L974.37,973.93 L974.82,971.98 L975.24,970.03 L975.63,968.08 L975.99,966.13 L976.34,964.18 L976.66,962.23 L976.97,960.28 L977.25,958.33 L977.53,956.38 L977.79,954.44 L978.04,952.50 L978.28,950.56 L978.51,948.62 L978.74,946.69 L978.95,944.76 L979.16,942.82 L979.36,940.90 L979.55,938.97 L979.74,937.04 L979.92,935.11 L980.10,933.19 L980.27,931.26 L980.44,929.33 L980.61,927.40 L980.77,925.48 L980.94,923.55 L981.10,921.62 L981.27,919.69 L981.43,917.75 L981.60,915.82 L981.76,913.88 L981.94,911.94 L982.11,910.00 L982.29,908.05 L982.47,906.11 L982.66,904.16 L982.85,902.20 L983.05,900.24 L983.26,898.28 L983.47,896.31 L983.70,894.34 L983.93,892.36 L984.17,890.38 L984.43,888.39 L984.69,886.40 L984.97,884.40 L985.26,882.40 L985.56,880.38 L985.87,878.37 L986.20,876.34 L986.55,874.31 L986.91,872.27 L987.28,870.22 L987.67,868.17 L988.09,866.11 L988.51,864.04 L988.96,861.96 L989.43,859.87 L989.92,857.77 L990.42,855.67 L990.95,853.55 L991.51,851.42 L992.08,849.29 L992.68,847.15 L993.30,845.06 L993.93,843.10 L994.58,841.36 L995.25,839.92 L995.92,838.86 L996.59,838.28 L997.27,838.24 L997.94,838.80 L998.61,839.85 L999.27,841.29 L999.92,842.98 L1000.55,844.81 L1001.16,846.69 L1001.75,848.57 L1002.33,850.47 L1002.89,852.38 L1003.42,854.29 L1003.94,856.22 L1004.45,858.16 L1004.93,860.10 L1005.40,862.05 L1005.86,864.02 L1006.29,865.98 L1006.71,867.96 L1007.12,869.94 L1007.51,871.92 L1007.88,873.91 L1008.25,875.91 L1008.59,877.90 L1008.92,879.90 L1009.24,881.91 L1009.55,883.92 L1009.84,885.92 L1010.12,887.93 L1010.38,889.94 L1010.64,891.95 L1010.88,893.96 L1011.11,895.97 L1011.33,897.98 L1011.54,899.98 L1011.73,901.99 L1011.92,903.99 L1012.10,905.98 L1012.27,907.97 L1012.42,909.96 L1012.57,911.95 L1012.71,913.93 L1012.85,915.90 L1012.97,917.88 L1013.08,919.85 L1013.19,921.82 L1013.29,923.78 L1013.39,925.75 L1013.47,927.71 L1013.55,929.67 L1013.63,931.62 L1013.70,933.58 L1013.76,935.53 L1013.82,937.48 L1013.87,939.44 L1013.92,941.39 L1013.97,943.34 L1014.01,945.28 L1014.05,947.23 L1014.08,949.18 L1014.11,951.13 L1014.14,953.08 L1014.17,955.02 L1014.19,956.97 L1014.22,958.92 L1014.24,960.87 L1014.26,962.82 L1014.28,964.77 L1014.30,966.73 L1014.31,968.68 L1014.33,970.64 L1014.35,972.60 L1014.37,974.56 L1014.39,976.52 L1014.42,978.49 L1014.44,980.46 L1014.47,982.43 L1014.50,984.40 L1014.53,986.38 L1014.56,988.36 L1014.60,990.35 L1014.64,992.33 L1014.68,994.33 L1014.73,996.32 L1014.79,998.32 L1014.84,1000.33 L1014.91,1002.34 L1014.98,1004.35 L1015.05,1006.37 L1015.13,1008.40 L1015.22,1010.43 L1015.31,1012.46 L1015.41,1014.50" stroke="#ff0000" stroke-width="7.0" fill="none" stroke-linejoin="round" stroke-dasharray="26,6.5,13,6.5"/>
<path d="M600.71,1021.42 L601.76,1021.16 L602.81,1020.90 L603.85,1020.65 L604.90,1020.39 L605.95,1020.14 L607.00,1019.89 L608.05,1019.65 L609.10,1019.40 L610.15,1019.16 L611.20,1018.93 L612.24,1018.69 L613.29,1018.46 L614.34,1018.22 L615.39,1018.00 L616.43,1017.77 L617.48,1017.55 L618.53,1017.32 L619.57,1017.11 L620.62,1016.89 L621.66,1016.68 L622.71,1016.46 L623.76,1016.26 L624.80,1016.05 L625.85,1015.85 L626.89,1015.64 L627.94,1015.45 L628.98,1015.25 L630.02,1015.06 L631.07,1014.86 L632.11,1014.68 L633.16,1014.49 L634.20,1014.31 L635.24,1014.13 L636.29,1013.95 L637.33,1013.77 L638.37,1013.60 L639.42,1013.43 L640.46,1013.26 L641.50,1013.10 L642.54,1012.93 L643.58,1012.77 L644.63,1012.62 L645.67,1012.46 L646.71,1012.31 L647.75,1012.16 L648.79,1012.01 L649.83,1011.87 L650.87,1011.73 L651.91,1011.59 L652.96,1011.46 L654.00,1011.32 L655.04,1011.19 L656.08,1011.06 L657.12,1010.94 L658.16,1010.82 L659.19,1010.70 L660.23,1010.58 L661.27,1010.47 L662.31,1010.36 L663.35,1010.25 L664.39,1010.14 L665.43,1010.04 L666.47,1009.94 L667.51,1009.84 L668.54,1009.75 L669.58,1009.66 L670.62,1009.57 L671.66,1009.48 L672.69,1009.40 L673.73,1009.32 L674.77,1009.24 L675.81,1009.16 L676.84,1009.09 L677.88,1009.02 L678.92,1008.96 L679.95,1008.89 L680.99,1008.83 L682.03,1008.78 L683.06,1008.72 L684.10,1008.67 L685.13,1008.62 L686.17,1008.57 L687.21,1008.53 L688.24,1008.49 L689.28,1008.45 L690.31,1008.42 L691.35,1008.39 L692.38,1008.36 L693.42,1008.33 L694.45,1008.31 L695.49,1008.29 L696.52,1008.27 L697.55,1008.26 L698.59,1008.25 L699.62,1008.24 L700.66,1008.24 L701.69,1008.24 L702.73,1008.24 L703.76,1008.24 L704.79,1008.25 L705.83,1008.26 L706.86,1008.27 L707.89,1008.29 L708.93,1008.31 L709.96,1008.33 L710.99,1008.36 L712.03,1008.39 L713.06,1008.42 L714.09,1008.45 L715.12,1008.49 L716.16,1008.53 L717.19,1008.58 L718.22,1008.62 L719.25,1008.67 L720.28,1008.73 L721.32,1008.78 L722.35,1008.84 L723.38,1008.91 L724.41,1008.97 L725.44,1009.04 L726.48,1009.11 L727.51,1009.19 L728.54,1009.27 L729.57,1009.35 L730.60,1009.44 L731.63,1009.52 L732.66,1009.61 L733.69,1009.71 L734.73,1009.81 L735.76,1009.91 L736.79,1010.01 L737.82,1010.12 L738.85,1010.23 L739.88,1010.35 L740.91,1010.46 L741.94,1010.58 L742.97,1010.71 L744.00,1010.83 L745.03,1010.96 L746.06,1011.10 L747.09,1011.23 L748.12,1011.37 L749.15,1011.51 L750.18,1011.66 L751.21,1011.80 L752.24,1011.96 L753.27,1012.11 L754.30,1012.26 L755.33,1012.42 L756.36,1012.58 L757.39,1012.75 L758.42,1012.91 L759.45,1013.08 L760.48,1013.25 L761.51,1013.43 L762.54,1013.60 L763.57,1013.78 L764.60,1013.96 L765.63,1014.14 L766.65,1014.33 L767.68,1014.52 L768.71,1014.71 L769.74,1014.90 L770.77,1015.09 L771.80,1015.29 L772.83,1015.49 L773.86,1015.69 L774.89,1015.89 L775.92,1016.09 L776.95,1016.30 L777.97,1016.50 L779.00,1016.71 L780.03,1016.92 L781.06,1017.13 L782.09,1017.35 L783.12,1017.56 L784.15,1017.78 L785.18,1018.00 L786.20,1018.22 L787.23,1018.44 L788.26,1018.66 L789.29,1018.89 L790.32,1019.11 L791.35,1019.34 L792.38,1019.57 L793.40,1019.80 L794.43,1020.03 L795.46,1020.26 L796.49,1020.49 L797.52,1020.72 L798.55,1020.96 L799.58,1021.19 L800.60,1021.43 L801.63,1021.67 L802.66,1021.91 L803.69,1022.15 L804.72,1022.39 L805.75,1022.63 L806.78,1022.87 L807.80,1023.11 L808.83,1023.35 L809.86,1023.59 L810.89,1023.84 L811.92,1024.08 L812.95,1024.32 L813.98,1024.57 L815.00,1024.81 L816.03,1025.06 L817.06,1025.30 L818.09,1025.55 L819.12,1025.79 L820.15,1026.04 L821.18,1026.28 L822.20,1026.53 L823.23,1026.77 L824.26,1027.02 L825.29,1027.26 L826.32,1027.51 L827.35,1027.75 L828.38,1027.99 L829.41,1028.24 L830.44,1028.48 L831.46,1028.72 L832.49,1028.97 L833.52,1029.21 L834.55,1029.45 L835.58,1029.69 L836.61,1029.93 L837.64,1030.17 L838.67,1030.40 L839.70,1030.64 L840.73,1030.88 L841.76,1031.11 L842.79,1031.35 L843.82,1031.58 L844.84,1031.81 L845.87,1032.04 L846.90,1032.27 L847.93,1032.50 L848.96,1032.73 L849.99,1032.96 L851.02,1033.18 L852.05,1033.41 L853.08,1033.63 L854.11,1033.85 L855.14,1034.07 L856.17,1034.28 L857.20,1034.50 L858.23,1034.71 L859.26,1034.93 L860.29,1035.14 L861.32,1035.35 L862.35,1035.55 L863.39,1035.76 L864.42,1035.96 L865.45,1036.16 L866.48,1036.36 L867.51,1036.56 L868.54,1036.75 L869.57,1036.95 L870.60,1037.14 L871.63,1037.33 L872.66,1037.51 L873.70,1037.70 L874.73,1037.88 L875.76,1038.06 L876.79,1038.24 L877.82,1038.42 L878.85,1038.59 L879.88,1038.77 L880.92,1038.94 L881.95,1039.11 L882.98,1039.27 L884.01,1039.44 L885.04,1039.60 L886.08,1039.77 L887.11,1039.93 L888.14,1040.08 L889.17,1040.24 L890.21,1040.39 L891.24,1040.55 L892.27,1040.70 L893.31,1040.85 L894.34,1040.99 L895.37,1041.14 L896.41,1041.28 L897.44,1041.42 L898.47,1041.56 L899.51,1041.70 L900.54,1041.84 L901.57,1041.97 L902.61,1042.10 L903.64,1042.23 L904.68,1042.36 L905.71,1042.49 L906.75,1042.62 L907.78,1042.74 L908.81,1042.86 L909.85,1042.98 L910.88,1043.10 L911.92,1043.22 L912.95,1043.33 L913.99,1043.45 L915.03,1043.56 L916.06,1043.67 L917.10,1043.78 L918.13,1043.89 L919.17,1043.99 L920.20,1044.09 L921.24,1044.20 L922.28,1044.30 L923.31,1044.40 L924.35,1044.49 L925.39,1044.59 L926.42,1044.68 L927.46,1044.78 L928.50,1044.87 L929.54,1044.96 L930.57,1045.04 L931.61,1045.13 L932.65,1045.22 L933.69,1045.30 L934.72,1045.38 L935.76,1045.46 L936.80,1045.54 L937.84,1045.62 L938.88,1045.69 L939.92,1045.77 L940.95,1045.84 L941.99,1045.91 L943.03,1045.98 L944.07,1046.05 L945.11,1046.12 L946.15,1046.18 L947.19,1046.25 L948.23,1046.31 L949.27,1046.37 L950.31,1046.43 L951.35,1046.49 L952.39,1046.55 L953.43,1046.60 L954.48,1046.66 L955.52,1046.71 L956.56,1046.76 L957.60,1046.81 L958.64,1046.86 L959.68,1046.91 L960.72,1046.96 L961.77,1047.00 L962.81,1047.04 L963.85,1047.09 L964.89,1047.13 L965.94,1047.17 L966.98,1047.21 L968.02,1047.24 L969.07,1047.28 L970.11,1047.31 L971.16,1047.35 L972.20,1047.38 L973.24,1047.41 L974.29,1047.44 L975.33,1047.47 L976.38,1047.50 L977.42,1047.52 L978.47,1047.55 L979.51,1047.57 L980.56,1047.59 L981.60,1047.62 L982.65,1047.64 L983.70,1047.66 L984.74,1047.67 L985.79,1047.69 L986.84,1047.71 L987.88,1047.72 L988.93,1047.73 L989.98,1047.75 L991.03,1047.76 L992.07,1047.77 L993.12,1047.78 L994.17,1047.79 L995.22,1047.79 L996.27,1047.80 L997.32,1047.80 L998.37,1047.81 L999.41,1047.81 L1000.46,1047.81 L1001.51,1047.81 L1002.56,1047.81 L1003.61,1047.81 L1004.66,1047.81 L1005.72,1047.81 L1006.77,1047.80 L1007.82,1047.80 L1008.87,1047.79 L1009.92,1047.78 L1010.97,1047.78 L1012.02,1047.77 L1013.08,1047.76 L1014.13,1047.75" stroke="#006400" stroke-width="7.0" fill="none" stroke-linejoin="round" stroke-dasharray="26,6.5,13,6.5"/>
<path d="M601.80,731.60 L603.77,732.42 L605.70,733.69 L607.59,735.30 L609.44,737.14 L611.25,739.09 L613.01,741.04 L614.74,742.86 L616.43,744.44 L618.07,745.67 L619.68,746.43 L621.24,746.61 L622.77,746.11 L624.26,745.00 L625.71,743.42 L627.12,741.48 L628.49,739.31 L629.82,737.04 L631.12,734.77 L632.38,732.53 L633.60,730.32 L634.79,728.13 L635.94,725.97 L637.05,723.83 L638.13,721.70 L639.17,719.60 L640.17,717.50 L641.14,715.42 L642.08,713.34 L642.98,711.27 L643.84,709.20 L644.68,707.13 L645.47,705.06 L646.24,702.98 L646.97,700.90 L647.67,698.81 L648.35,696.70 L649.01,694.58 L649.67,692.44 L650.34,690.27 L651.02,688.08 L651.73,685.86 L652.48,683.60 L653.27,681.31 L654.12,678.98 L655.04,676.60 L656.03,674.18 L657.11,671.78 L658.29,669.47 L659.57,667.33 L660.97,665.43 L662.50,663.85 L664.15,662.65 L665.88,661.90 L667.68,661.66 L669.51,661.96 L671.34,662.76 L673.14,663.97 L674.89,665.49 L676.54,667.24 L678.08,669.12 L679.48,671.07 L680.78,673.06 L681.98,675.09 L683.13,677.15 L684.24,679.22 L685.33,681.30 L686.42,683.37 L687.51,685.45 L688.59,687.52 L689.68,689.58 L690.76,691.65 L691.84,693.71 L692.93,695.77 L694.01,697.83 L695.09,699.89 L696.17,701.94 L697.25,704.00 L698.34,706.05 L699.42,708.09 L700.51,710.14 L701.60,712.18 L702.69,714.22 L703.78,716.26 L704.87,718.29 L705.97,720.33 L707.07,722.36 L708.17,724.38 L709.28,726.41 L710.39,728.43 L711.51,730.45 L712.63,732.47 L713.75,734.48 L714.88,736.49 L716.02,738.50 L717.16,740.51 L718.31,742.51 L719.46,744.51 L720.62,746.50 L721.79,748.50 L722.96,750.49 L724.15,752.48 L725.33,754.46 L726.53,756.44 L727.73,758.42 L728.94,760.40 L730.16,762.37 L731.38,764.34 L732.61,766.30 L733.85,768.27 L735.09,770.23 L736.34,772.18 L737.60,774.14 L738.86,776.08 L740.13,778.03 L741.41,779.97 L742.69,781.91 L743.98,783.85 L745.27,785.78 L746.57,787.71 L747.88,789.63 L749.19,791.55 L750.51,793.47 L751.84,795.38 L753.17,797.29 L754.51,799.20 L755.85,801.10 L757.20,803.00 L758.55,804.90 L759.91,806.79 L761.28,808.68 L762.65,810.56 L764.02,812.44 L765.41,814.31 L766.79,816.18 L768.19,818.05 L769.58,819.91 L770.99,821.77 L772.40,823.63 L773.81,825.48 L775.23,827.33 L776.65,829.17 L778.08,831.01 L779.51,832.84 L780.95,834.67 L782.40,836.50 L783.84,838.32 L785.30,840.13 L786.75,841.94 L788.21,843.75 L789.68,845.55 L791.15,847.35 L792.63,849.15 L794.11,850.94 L795.59,852.72 L797.08,854.50 L798.57,856.28 L800.07,858.05 L801.57,859.81 L803.07,861.58 L804.58,863.33 L806.09,865.08 L807.61,866.83 L809.13,868.57 L810.65,870.31 L812.18,872.04 L813.72,873.77 L815.25,875.49 L816.80,877.20 L818.35,878.91 L819.90,880.61 L821.46,882.30 L823.03,883.99 L824.60,885.67 L826.18,887.34 L827.77,889.01 L829.36,890.67 L830.96,892.32 L832.57,893.96 L834.18,895.60 L835.80,897.23 L837.43,898.85 L839.07,900.46 L840.72,902.06 L842.37,903.65 L844.04,905.23 L845.71,906.80 L847.39,908.37 L849.08,909.92 L850.78,911.46 L852.49,913.00 L854.22,914.52 L855.95,916.03 L857.69,917.54 L859.44,919.03 L861.20,920.51 L862.98,921.97 L864.76,923.43 L866.56,924.87 L868.37,926.31 L870.19,927.73 L872.02,929.14 L873.87,930.53 L875.73,931.92 L877.60,933.29 L879.48,934.64 L881.38,935.99 L883.29,937.32 L885.21,938.63 L887.15,939.94 L889.11,941.22 L891.07,942.50 L893.05,943.76 L895.05,945.00 L897.06,946.23 L899.09,947.45 L901.13,948.65 L903.18,949.84 L905.26,951.00 L907.35,952.16 L909.45,953.30 L911.57,954.42 L913.71,955.52 L915.87,956.61 L918.04,957.68 L920.23,958.74 L922.44,959.77 L924.66,960.79 L926.90,961.80 L929.16,962.78 L931.43,963.71 L933.70,964.59 L935.97,965.38 L938.23,966.07 L940.47,966.63 L942.69,967.06 L944.87,967.31 L947.02,967.39 L949.12,967.26 L951.17,966.90 L953.16,966.30 L955.09,965.46 L956.95,964.41 L958.72,963.18 L960.41,961.79 L962.01,960.27 L963.51,958.64 L964.90,956.93 L966.19,955.15 L967.39,953.29 L968.50,951.36 L969.52,949.36 L970.46,947.31 L971.32,945.20 L972.10,943.04 L972.81,940.83 L973.46,938.59 L974.05,936.30 L974.58,933.98 L975.05,931.64 L975.48,929.27 L975.86,926.88 L976.20,924.48 L976.51,922.06 L976.78,919.64 L977.03,917.22 L977.25,914.80 L977.45,912.39 L977.64,910.00 L977.82,907.61 L977.99,905.26 L978.16,902.92 L978.32,900.61 L978.49,898.32 L978.66,896.05 L978.82,893.80 L978.99,891.56 L979.17,889.34 L979.34,887.12 L979.53,884.92 L979.71,882.72 L979.91,880.52 L980.11,878.33 L980.31,876.14 L980.53,873.94 L980.76,871.74 L980.99,869.53 L981.24,867.31 L981.50,865.09 L981.77,862.84 L982.06,860.58 L982.36,858.31 L982.68,856.01 L983.01,853.69 L983.36,851.35 L983.73,848.98 L984.11,846.58 L984.52,844.15 L984.94,841.68 L985.39,839.18 L985.86,836.64 L986.35,834.06 L986.87,831.44 L987.41,828.78 L987.98,826.12 L988.60,823.53 L989.27,821.08 L990.01,818.81 L990.83,816.80 L991.74,815.10 L992.75,813.79 L993.83,812.95 L994.92,812.69 L995.96,813.10 L996.94,814.15 L997.85,815.71 L998.72,817.64 L999.54,819.82 L1000.31,822.12 L1001.04,824.43 L1001.74,826.75 L1002.41,829.07 L1003.03,831.39 L1003.63,833.71 L1004.19,836.03 L1004.72,838.36 L1005.22,840.68 L1005.69,843.01 L1006.14,845.33 L1006.55,847.66 L1006.94,849.99 L1007.30,852.32 L1007.64,854.65 L1007.96,856.97 L1008.25,859.30 L1008.52,861.63 L1008.78,863.96 L1009.01,866.28 L1009.22,868.61 L1009.42,870.93 L1009.61,873.25 L1009.77,875.57 L1009.93,877.89 L1010.07,880.21 L1010.19,882.52 L1010.31,884.84 L1010.42,887.15 L1010.52,889.46 L1010.61,891.77 L1010.69,894.07 L1010.77,896.38 L1010.85,898.68 L1010.92,900.99 L1010.99,903.29 L1011.05,905.60 L1011.12,907.90 L1011.19,910.21 L1011.25,912.51 L1011.33,914.82 L1011.40,917.13 L1011.48,919.44 L1011.56,921.75 L1011.65,924.07 L1011.74,926.38 L1011.84,928.70 L1011.93,931.01 L1012.04,933.33 L1012.14,935.65 L1012.25,937.97 L1012.35,940.29 L1012.47,942.61 L1012.58,944.93 L1012.69,947.26 L1012.81,949.58 L1012.92,951.90 L1013.04,954.23 L1013.16,956.55 L1013.27,958.88 L1013.39,961.20 L1013.50,963.53 L1013.62,965.85 L1013.73,968.18 L1013.84,970.50 L1013.95,972.82 L1014.06,975.15 L1014.17,977.47 L1014.27,979.79 L1014.37,982.11 L1014.47,984.43 L1014.56,986.75 L1014.65,989.07 L1014.74,991.39 L1014.82,993.71 L1014.90,996.02 L1014.97,998.34 L1015.04,1000.65 L1015.10,1002.96 L1015.16,1005.27 L1015.21,1007.58 L1015.26,1009.89" stroke="#000000" stroke-width="7.0" fill="none" stroke-linejoin="round" stroke-dasharray="6.5,6.5"/>
</g>
<path d="M58.0,522.85 h4.5 M471.0,522.85 h-4.5 M58.0,402.94 h4.5 M471.0,402.94 h-4.5 M58.0,283.03 h4.5 M471.0,283.03 h-4.5 M58.0,163.71 h4.5 M471.0,163.71 h-4.5 M58.0,43.20 h4.5 M471.0,43.20 h-4.5 M58.00,522.85 v-4.5 M58.00,43.2 v4.5 M265.10,522.85 v-4.5 M265.10,43.2 v4.5 M471.00,522.85 v-4.5 M471.00,43.2 v4.5" stroke="#4a4a4a" stroke-width="1.8" fill="none"/>
<rect x="58.0" y="43.2" width="413.0" height="479.65000000000003" fill="none" stroke="#4a4a4a" stroke-width="1.8"/>
<path d="M601.3,522.85 h4.5 M1015.7,522.85 h-4.5 M601.3,426.92 h4.5 M1015.7,426.92 h-4.5 M601.3,330.99 h4.5 M1015.7,330.99 h-4.5 M601.3,235.06 h4.5 M1015.7,235.06 h-4.5 M601.3,139.13 h4.5 M1015.7,139.13 h-4.5 M601.3,43.20 h4.5 M1015.7,43.20 h-4.5 M601.30,522.85 v-4.5 M601.30,43.2 v4.5 M808.60,522.85 v-4.5 M808.60,43.2 v4.5 M1015.70,522.85 v-4.5 M1015.70,43.2 v4.5" stroke="#4a4a4a" stroke-width="1.8" fill="none"/>
<rect x="601.3" y="43.2" width="414.4000000000001" height="479.65000000000003" fill="none" stroke="#4a4a4a" stroke-width="1.8"/>
<path d="M58.0,1051.70 h4.5 M471.0,1051.70 h-4.5 M58.0,931.78 h4.5 M471.0,931.78 h-4.5 M58.0,811.85 h4.5 M471.0,811.85 h-4.5 M58.0,692.42 h4.5 M471.0,692.42 h-4.5 M58.0,572.00 h4.5 M471.0,572.00 h-4.5 M58.00,1051.7 v-4.5 M58.00,572.0 v4.5 M265.10,1051.7 v-4.5 M265.10,572.0 v4.5 M471.00,1051.7 v-4.5 M471.00,572.0 v4.5" stroke="#4a4a4a" stroke-width="1.8" fill="none"/>
<rect x="58.0" y="572.0" width="413.0" height="479.70000000000005" fill="none" stroke="#4a4a4a" stroke-width="1.8"/>
<path d="M601.3,1051.70 h4.5 M1015.7,1051.70 h-4.5 M601.3,971.75 h4.5 M1015.7,971.75 h-4.5 M601.3,891.80 h4.5 M1015.7,891.80 h-4.5 M601.3,811.85 h4.5 M1015.7,811.85 h-4.5 M601.3,731.90 h4.5 M1015.7,731.90 h-4.5 M601.3,651.95 h4.5 M1015.7,651.95 h-4.5 M601.30,1051.7 v-4.5 M601.30,572.0 v4.5 M808.60,1051.7 v-4.5 M808.60,572.0 v4.5 M1015.70,1051.7 v-4.5 M1015.70,572.0 v4.5" stroke="#4a4a4a" stroke-width="1.8" fill="none"/>
<rect x="601.3" y="572.0" width="414.4000000000001" height="479.70000000000005" fill="none" stroke="#4a4a4a" stroke-width="1.8"/>
<text x="42.50" y="533.25" font-size="42" text-anchor="end" fill="#262626" stroke="#ffffff" stroke-width="0.6">0</text>
<text x="42.50" y="413.34" font-size="42" text-anchor="end" fill="#262626" stroke="#ffffff" stroke-width="0.6">10</text>
<text x="42.50" y="293.43" font-size="42" text-anchor="end" fill="#262626" stroke="#ffffff" stroke-width="0.6">20</text>
<text x="42.50" y="174.11" font-size="42" text-anchor="end" fill="#262626" stroke="#ffffff" stroke-width="0.6">30</text>
<text x="42.50" y="53.60" font-size="42" text-anchor="end" fill="#262626" stroke="#ffffff" stroke-width="0.6">40</text>
<text x="585.80" y="533.25" font-size="42" text-anchor="end" fill="#262626" stroke="#ffffff" stroke-width="0.6">0</text>
<text x="585.80" y="437.32" font-size="42" text-anchor="end" fill="#262626" stroke="#ffffff" stroke-width="0.6">1</text>
<text x="585.80" y="341.39" font-size="42" text-anchor="end" fill="#262626" stroke="#ffffff" stroke-width="0.6">2</text>
<text x="585.80" y="245.46" font-size="42" text-anchor="end" fill="#262626" stroke="#ffffff" stroke-width="0.6">3</text>
<text x="585.80" y="149.53" font-size="42" text-anchor="end" fill="#262626" stroke="#ffffff" stroke-width="0.6">4</text>
<text x="585.80" y="53.60" font-size="42" text-anchor="end" fill="#262626" stroke="#ffffff" stroke-width="0.6">5</text>
<text x="42.50" y="1062.10" font-size="42" text-anchor="end" fill="#262626" stroke="#ffffff" stroke-width="0.6">0</text>
<text x="42.50" y="942.18" font-size="42" text-anchor="end" fill="#262626" stroke="#ffffff" stroke-width="0.6">2</text>
<text x="42.50" y="822.25" font-size="42" text-anchor="end" fill="#262626" stroke="#ffffff" stroke-width="0.6">4</text>
<text x="42.50" y="702.82" font-size="42" text-anchor="end" fill="#262626" stroke="#ffffff" stroke-width="0.6">6</text>
<text x="42.50" y="582.40" font-size="42" text-anchor="end" fill="#262626" stroke="#ffffff" stroke-width="0.6">8</text>
<text x="585.80" y="1062.10" font-size="42" text-anchor="end" fill="#262626" stroke="#ffffff" stroke-width="0.6">0</text>
<text x="585.80" y="982.15" font-size="42" text-anchor="end" fill="#262626" stroke="#ffffff" stroke-width="0.6">0.2</text>
<text x="585.80" y="902.20" font-size="42" text-anchor="end" fill="#262626" stroke="#ffffff" stroke-width="0.6">0.4</text>
<text x="585.80" y="822.25" font-size="42" text-anchor="end" fill="#262626" stroke="#ffffff" stroke-width="0.6">0.6</text>
<text x="585.80" y="742.30" font-size="42" text-anchor="end" fill="#262626" stroke="#ffffff" stroke-width="0.6">0.8</text>
<text x="585.80" y="662.35" font-size="42" text-anchor="end" fill="#262626" stroke="#ffffff" stroke-width="0.6">1</text>
<text x="58.00" y="1101.20" font-size="42" text-anchor="middle" fill="#262626" stroke="#ffffff" stroke-width="0.6">0</text>
<text x="264.50" y="1101.20" font-size="42" text-anchor="middle" fill="#262626" stroke="#ffffff" stroke-width="0.6">0.5</text>
<text x="471.00" y="1101.20" font-size="42" text-anchor="middle" fill="#262626" stroke="#ffffff" stroke-width="0.6">1</text>
<text x="599.80" y="1101.20" font-size="42" text-anchor="middle" fill="#262626" stroke="#ffffff" stroke-width="0.6">0</text>
<text x="807.00" y="1101.20" font-size="42" text-anchor="middle" fill="#262626" stroke="#ffffff" stroke-width="0.6">0.5</text>
<text x="1014.20" y="1101.20" font-size="42" text-anchor="middle" fill="#262626" stroke="#ffffff" stroke-width="0.6">1</text>
<text x="71.20" y="35.00" font-size="46" fill="#000" textLength="53.00" lengthAdjust="spacingAndGlyphs">(a)</text>
<text x="614.57" y="33.20" font-size="46" fill="#000" textLength="56.46" lengthAdjust="spacingAndGlyphs">(b)</text>
<text x="72.34" y="562.10" font-size="46" fill="#000" textLength="51.91" lengthAdjust="spacingAndGlyphs">(c)</text>
<text x="614.97" y="563.30" font-size="46" fill="#000" textLength="56.56" lengthAdjust="spacingAndGlyphs">(d)</text>
<rect x="183.5" y="22" width="378.5" height="189" fill="#ffffff" stroke="#4a4a4a" stroke-width="1.8"/>
<path d="M192.3,47.8 L295.5,47.8" stroke="#0000ff" stroke-width="7.0" fill="none" stroke-linejoin="round"/>
<path d="M192.3,93.6 L295.5,93.6" stroke="#ff0000" stroke-width="7.0" fill="none" stroke-linejoin="round" stroke-dasharray="26,26"/>
<path d="M192.3,139.5 L295.5,139.5" stroke="#006400" stroke-width="7.0" fill="none" stroke-linejoin="round" stroke-dasharray="26,6.5,13,6.5"/>
<path d="M192.3,185.3 L295.5,185.3" stroke="#000000" stroke-width="7.0" fill="none" stroke-linejoin="round" stroke-dasharray="6.5,6.5"/>
<text x="300.41" y="55.50" font-size="35" font-style="italic" fill="#262626" textLength="26.30" lengthAdjust="spacingAndGlyphs" stroke="#ffffff" stroke-width="0.4">T</text>
<text x="323.63" y="62.30" font-size="24" font-style="italic" fill="#262626" textLength="12.61" lengthAdjust="spacingAndGlyphs" stroke="#ffffff" stroke-width="0.2">e</text>
<text x="351.50" y="58.57" font-size="45.07" fill="#262626" textLength="8.08" lengthAdjust="spacingAndGlyphs" stroke="#ffffff" stroke-width="0.4">[</text>
<text x="359.58" y="55.60" font-size="37" fill="#262626" textLength="62.64" lengthAdjust="spacingAndGlyphs" stroke="#ffffff" stroke-width="0.4">keV</text>
<text x="421.34" y="58.57" font-size="45.07" fill="#262626" textLength="7.93" lengthAdjust="spacingAndGlyphs" stroke="#ffffff" stroke-width="0.4">]</text>
<text x="300.41" y="101.20" font-size="35" font-style="italic" fill="#262626" textLength="26.30" lengthAdjust="spacingAndGlyphs" stroke="#ffffff" stroke-width="0.4">T</text>
<text x="322.47" y="106.70" font-size="24" font-style="italic" fill="#262626" textLength="10.13" lengthAdjust="spacingAndGlyphs" stroke="#ffffff" stroke-width="0.2">i</text>
<text x="348.13" y="104.17" font-size="45.07" fill="#262626" textLength="7.93" lengthAdjust="spacingAndGlyphs" stroke="#ffffff" stroke-width="0.4">[</text>
<text x="356.18" y="101.10" font-size="37" fill="#262626" textLength="62.64" lengthAdjust="spacingAndGlyphs" stroke="#ffffff" stroke-width="0.4">keV</text>
<text x="420.00" y="104.17" font-size="45.07" fill="#262626" textLength="7.33" lengthAdjust="spacingAndGlyphs" stroke="#ffffff" stroke-width="0.4">]</text>
<text x="302.26" y="146.20" font-size="35" font-style="italic" fill="#262626" textLength="24.48" lengthAdjust="spacingAndGlyphs" stroke="#ffffff" stroke-width="0.4">n</text>
<text x="324.10" y="152.70" font-size="24" font-style="italic" fill="#262626" textLength="12.95" lengthAdjust="spacingAndGlyphs" stroke="#ffffff" stroke-width="0.2">e</text>
<text x="351.40" y="150.44" font-size="45.31" fill="#262626" textLength="8.08" lengthAdjust="spacingAndGlyphs" stroke="#ffffff" stroke-width="0.4">[</text>
<text x="360.76" y="146.20" font-size="35" fill="#262626" textLength="31.12" lengthAdjust="spacingAndGlyphs" stroke="#ffffff" stroke-width="0.4">10</text>
<text x="390.85" y="134.60" font-size="24" fill="#262626" textLength="26.75" lengthAdjust="spacingAndGlyphs" stroke="#ffffff" stroke-width="0.2">19</text>
<text x="418.05" y="146.20" font-size="35" fill="#262626" textLength="35.37" lengthAdjust="spacingAndGlyphs" stroke="#ffffff" stroke-width="0.4">m</text>
<text x="452.28" y="134.60" font-size="24" fill="#262626" textLength="36.66" lengthAdjust="spacingAndGlyphs" stroke="#ffffff" stroke-width="0.2">−3</text>
<text x="489.62" y="150.44" font-size="45.31" fill="#262626" textLength="8.08" lengthAdjust="spacingAndGlyphs" stroke="#ffffff" stroke-width="0.4">]</text>
<text x="302.26" y="192.70" font-size="35" font-style="italic" fill="#262626" textLength="24.48" lengthAdjust="spacingAndGlyphs" stroke="#ffffff" stroke-width="0.4">n</text>
<text x="324.10" y="199.20" font-size="24" font-style="italic" fill="#262626" textLength="12.95" lengthAdjust="spacingAndGlyphs" stroke="#ffffff" stroke-width="0.2">e</text>
<text x="346.39" y="199.20" font-size="24" font-style="italic" fill="#262626" textLength="40.63" lengthAdjust="spacingAndGlyphs" stroke="#ffffff" stroke-width="0.2">Gw</text>
<text x="403.10" y="196.44" font-size="45.31" fill="#262626" textLength="8.08" lengthAdjust="spacingAndGlyphs" stroke="#ffffff" stroke-width="0.4">[</text>
<text x="411.03" y="192.70" font-size="35" fill="#262626" textLength="32.61" lengthAdjust="spacingAndGlyphs" stroke="#ffffff" stroke-width="0.4">10</text>
<text x="442.17" y="180.70" font-size="24" fill="#262626" textLength="32.14" lengthAdjust="spacingAndGlyphs" stroke="#ffffff" stroke-width="0.2">19</text>
<text x="473.14" y="192.70" font-size="35" fill="#262626" textLength="31.90" lengthAdjust="spacingAndGlyphs" stroke="#ffffff" stroke-width="0.4">m</text>
<text x="503.98" y="180.70" font-size="24" fill="#262626" textLength="36.66" lengthAdjust="spacingAndGlyphs" stroke="#ffffff" stroke-width="0.2">−3</text>
<text x="540.12" y="196.44" font-size="45.31" fill="#262626" textLength="8.08" lengthAdjust="spacingAndGlyphs" stroke="#ffffff" stroke-width="0.4">]</text>
<rect x="629" y="100.5" width="305.5" height="99.30000000000001" fill="#ffffff" stroke="#4a4a4a" stroke-width="1.8"/>
<path d="M638,127.3 L741.2,127.3" stroke="#0000ff" stroke-width="7.0" fill="none" stroke-linejoin="round"/>
<path d="M638,171.2 L741.2,171.2" stroke="#ff0000" stroke-width="7.0" fill="none" stroke-linejoin="round"/>
<text x="747.73" y="136.00" font-size="35" font-style="italic" fill="#262626" textLength="17.59" lengthAdjust="spacingAndGlyphs" stroke="#ffffff" stroke-width="0.4">q</text>
<text x="745.12" y="180.10" font-size="35" font-style="italic" fill="#262626" textLength="29.75" lengthAdjust="spacingAndGlyphs" stroke="#ffffff" stroke-width="0.4">U</text>
<text x="772.97" y="186.50" font-size="24" font-style="italic" fill="#262626" textLength="19.48" lengthAdjust="spacingAndGlyphs" stroke="#ffffff" stroke-width="0.2">pl</text>
<text x="810.03" y="182.76" font-size="45.91" fill="#262626" textLength="8.82" lengthAdjust="spacingAndGlyphs" stroke="#ffffff" stroke-width="0.4">[</text>
<text x="816.88" y="179.50" font-size="37" fill="#262626" textLength="94.55" lengthAdjust="spacingAndGlyphs" stroke="#ffffff" stroke-width="0.4">10mV</text>
<text x="912.36" y="182.76" font-size="45.91" fill="#262626" textLength="8.67" lengthAdjust="spacingAndGlyphs" stroke="#ffffff" stroke-width="0.4">]</text>
<rect x="154" y="748.5" width="248.3" height="144.79999999999995" fill="#ffffff" stroke="#4a4a4a" stroke-width="1.8"/>
<path d="M163.2,775.5 L266.2,775.5" stroke="#0000ff" stroke-width="7.0" fill="none" stroke-linejoin="round"/>
<path d="M163.2,821.7 L266.2,821.7" stroke="#ff0000" stroke-width="7.0" fill="none" stroke-linejoin="round" stroke-dasharray="26,26"/>
<path d="M163.2,865.6 L266.2,865.6" stroke="#006400" stroke-width="7.0" fill="none" stroke-linejoin="round" stroke-dasharray="26,6.5,13,6.5"/>
<text x="275.31" y="783.30" font-size="35" font-style="italic" fill="#262626" textLength="27.82" lengthAdjust="spacingAndGlyphs" stroke="#ffffff" stroke-width="0.4">X</text>
<text x="316.42" y="783.30" font-size="35" fill="#262626" textLength="29.21" lengthAdjust="spacingAndGlyphs" stroke="#ffffff" stroke-width="0.4">=</text>
<text x="351.79" y="783.30" font-size="35" font-style="italic" fill="#262626" textLength="26.40" lengthAdjust="spacingAndGlyphs" stroke="#ffffff" stroke-width="0.4">T</text>
<text x="376.93" y="789.90" font-size="24" font-style="italic" fill="#262626" textLength="12.61" lengthAdjust="spacingAndGlyphs" stroke="#ffffff" stroke-width="0.2">e</text>
<text x="275.31" y="827.10" font-size="35" font-style="italic" fill="#262626" textLength="27.82" lengthAdjust="spacingAndGlyphs" stroke="#ffffff" stroke-width="0.4">X</text>
<text x="316.42" y="827.10" font-size="35" fill="#262626" textLength="29.21" lengthAdjust="spacingAndGlyphs" stroke="#ffffff" stroke-width="0.4">=</text>
<text x="351.79" y="827.10" font-size="35" font-style="italic" fill="#262626" textLength="26.40" lengthAdjust="spacingAndGlyphs" stroke="#ffffff" stroke-width="0.4">T</text>
<text x="375.71" y="833.70" font-size="24" font-style="italic" fill="#262626" textLength="10.42" lengthAdjust="spacingAndGlyphs" stroke="#ffffff" stroke-width="0.2">i</text>
<text x="275.31" y="872.90" font-size="35" font-style="italic" fill="#262626" textLength="27.82" lengthAdjust="spacingAndGlyphs" stroke="#ffffff" stroke-width="0.4">X</text>
<text x="316.42" y="872.90" font-size="35" fill="#262626" textLength="29.21" lengthAdjust="spacingAndGlyphs" stroke="#ffffff" stroke-width="0.4">=</text>
<text x="354.60" y="872.90" font-size="35" font-style="italic" fill="#262626" textLength="22.47" lengthAdjust="spacingAndGlyphs" stroke="#ffffff" stroke-width="0.4">n</text>
<text x="376.93" y="879.50" font-size="24" font-style="italic" fill="#262626" textLength="12.61" lengthAdjust="spacingAndGlyphs" stroke="#ffffff" stroke-width="0.2">e</text>
<rect x="777.7" y="642.4" width="186.0" height="189.0" fill="#ffffff" stroke="#4a4a4a" stroke-width="1.8"/>
<path d="M787.2,668.2 L889,668.2" stroke="#0000ff" stroke-width="7.0" fill="none" stroke-linejoin="round"/>
<path d="M787.2,714 L889,714" stroke="#ff0000" stroke-width="7.0" fill="none" stroke-linejoin="round" stroke-dasharray="26,6.5,13,6.5"/>
<path d="M787.2,759.5 L889,759.5" stroke="#006400" stroke-width="7.0" fill="none" stroke-linejoin="round" stroke-dasharray="26,6.5,13,6.5"/>
<path d="M787.2,805.1 L889,805.1" stroke="#000000" stroke-width="7.0" fill="none" stroke-linejoin="round" stroke-dasharray="6.5,6.5"/>
<text x="901.58" y="674.50" font-size="35" font-style="italic" fill="#262626" textLength="11.64" lengthAdjust="spacingAndGlyphs" stroke="#ffffff" stroke-width="0.4">j</text>
<text x="912.68" y="681.50" font-size="24" font-style="italic" fill="#262626" textLength="27.67" lengthAdjust="spacingAndGlyphs" stroke="#ffffff" stroke-width="0.2">oh</text>
<text x="901.58" y="720.50" font-size="35" font-style="italic" fill="#262626" textLength="11.64" lengthAdjust="spacingAndGlyphs" stroke="#ffffff" stroke-width="0.4">j</text>
<text x="912.52" y="727.50" font-size="24" font-style="italic" fill="#262626" textLength="23.48" lengthAdjust="spacingAndGlyphs" stroke="#ffffff" stroke-width="0.2">bs</text>
<text x="901.58" y="766.50" font-size="35" font-style="italic" fill="#262626" textLength="11.64" lengthAdjust="spacingAndGlyphs" stroke="#ffffff" stroke-width="0.4">j</text>
<text x="912.52" y="773.50" font-size="24" font-style="italic" fill="#262626" textLength="27.51" lengthAdjust="spacingAndGlyphs" stroke="#ffffff" stroke-width="0.2">nb</text>
<text x="901.58" y="812.50" font-size="35" font-style="italic" fill="#262626" textLength="11.64" lengthAdjust="spacingAndGlyphs" stroke="#ffffff" stroke-width="0.4">j</text>
<text x="915.22" y="819.50" font-size="24" font-style="italic" fill="#262626" textLength="40.70" lengthAdjust="spacingAndGlyphs" stroke="#ffffff" stroke-width="0.2">par</text>
<text x="68.80" y="607.70" font-size="28" font-style="italic" fill="#262626" textLength="23.02" lengthAdjust="spacingAndGlyphs" stroke="#ffffff" stroke-width="0.2">R</text>
<text x="91.69" y="613.90" font-size="20" fill="#262626" textLength="10.62" lengthAdjust="spacingAndGlyphs" stroke="#ffffff" stroke-width="0.2">0</text>
<line x1="67.8" y1="616.2" x2="104.5" y2="616.2" stroke="#262626" stroke-width="2"/>
<text x="77.67" y="642.00" font-size="30" font-style="italic" fill="#262626" textLength="17.22" lengthAdjust="spacingAndGlyphs" stroke="#ffffff" stroke-width="0.4">a</text>
<text x="116.10" y="607.70" font-size="31" font-style="italic" fill="#262626" textLength="14.83" lengthAdjust="spacingAndGlyphs" stroke="#ffffff" stroke-width="0.4">d</text>
<text x="137.38" y="607.70" font-size="31" fill="#262626" textLength="39.51" lengthAdjust="spacingAndGlyphs" stroke="#ffffff" stroke-width="0.4">log</text>
<text x="184.53" y="607.70" font-size="29" font-style="italic" fill="#262626" textLength="22.58" lengthAdjust="spacingAndGlyphs" stroke="#ffffff" stroke-width="0.2">X</text>
<line x1="116.2" y1="616.2" x2="211.4" y2="616.2" stroke="#262626" stroke-width="2"/>
<text x="147.17" y="642.00" font-size="31" font-style="italic" fill="#262626" textLength="33.25" lengthAdjust="spacingAndGlyphs" stroke="#ffffff" stroke-width="0.4">dρ</text>
<text x="625.41" y="623.80" font-size="43" font-style="italic" fill="#262626" textLength="13.80" lengthAdjust="spacingAndGlyphs" stroke="#ffffff" stroke-width="0.4">j</text>
<text x="656.87" y="626.56" font-size="54.13" fill="#262626" textLength="11.37" lengthAdjust="spacingAndGlyphs" stroke="#ffffff" stroke-width="0.4">[</text>
<text x="669.33" y="623.80" font-size="43" fill="#262626" textLength="71.09" lengthAdjust="spacingAndGlyphs" stroke="#ffffff" stroke-width="0.4">MA</text>
<text x="742.40" y="633.15" font-size="66.97" fill="#262626" textLength="13.40" lengthAdjust="spacingAndGlyphs" stroke="#ffffff" stroke-width="0.4">/</text>
<text x="763.75" y="623.80" font-size="43" fill="#262626" textLength="38.83" lengthAdjust="spacingAndGlyphs" stroke="#ffffff" stroke-width="0.4">m</text>
<text x="801.65" y="607.00" font-size="29" fill="#262626" textLength="15.34" lengthAdjust="spacingAndGlyphs" stroke="#ffffff" stroke-width="0.2">2</text>
<text x="818.57" y="626.56" font-size="54.13" fill="#262626" textLength="11.37" lengthAdjust="spacingAndGlyphs" stroke="#ffffff" stroke-width="0.4">]</text>
<text x="255.57" y="1154.60" font-size="46" font-style="italic" fill="#262626" stroke="#ffffff" stroke-width="0.4">ρ</text>
<text x="799.37" y="1154.60" font-size="46" font-style="italic" fill="#262626" stroke="#ffffff" stroke-width="0.4">ρ</text>
</svg>
</body></html>
